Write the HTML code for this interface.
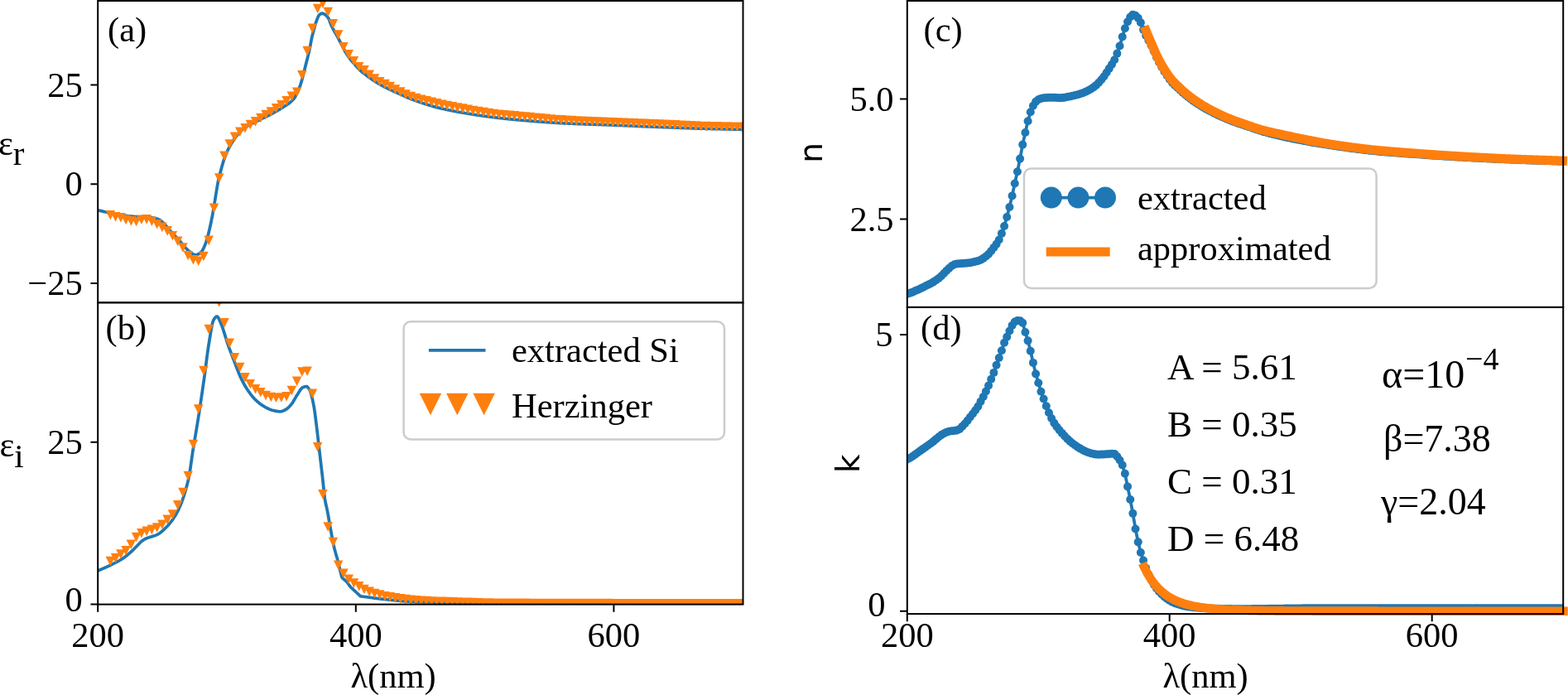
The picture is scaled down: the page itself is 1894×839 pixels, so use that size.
<!DOCTYPE html>
<html><head><meta charset="utf-8"><title>Si optical constants</title>
<style>html,body{margin:0;padding:0;background:#fff;overflow:hidden} svg{display:block}</style>
</head><body>
<svg width="1894" height="839" viewBox="0 0 1894 839">
<rect x="0" y="0" width="1894" height="839" fill="#ffffff"/>
<defs>
<clipPath id="clipa"><rect x="118.2" y="1.0" width="779.3" height="364.3"/></clipPath>
<clipPath id="clipb"><rect x="118.2" y="365.3" width="779.3" height="364.3"/></clipPath>
<clipPath id="clipc"><rect x="1095.8" y="1.0" width="792.4000000000001" height="369.9"/></clipPath>
<clipPath id="clipd"><rect x="1095.8" y="370.9" width="792.4000000000001" height="370.20000000000005"/></clipPath>
</defs>
<g clip-path="url(#clipa)"><polyline points="118.20,253.75 119.18,253.99 120.15,254.22 121.13,254.45 122.10,254.68 123.08,254.90 124.05,255.13 125.03,255.35 126.00,255.56 126.98,255.77 127.95,255.98 128.93,256.19 129.90,256.39 130.88,256.58 131.85,256.78 132.83,256.97 133.81,257.16 134.78,257.34 135.76,257.53 136.73,257.71 137.71,257.89 138.68,258.06 139.66,258.24 140.63,258.41 141.61,258.59 142.58,258.77 143.56,258.96 144.53,259.14 145.51,259.32 146.48,259.50 147.46,259.68 148.44,259.85 149.41,260.01 150.39,260.17 151.36,260.32 152.34,260.47 153.31,260.60 154.29,260.72 155.26,260.83 156.24,260.93 157.21,261.03 158.19,261.12 159.16,261.22 160.14,261.30 161.12,261.39 162.09,261.47 163.07,261.55 164.04,261.62 165.02,261.69 165.99,261.76 166.97,261.82 167.94,261.88 168.92,261.94 169.89,261.99 170.87,262.04 171.84,262.09 172.82,262.12 173.79,262.15 174.77,262.18 175.75,262.21 176.72,262.24 177.70,262.28 178.67,262.32 179.65,262.36 180.62,262.41 181.60,262.47 182.57,262.55 183.55,262.66 184.52,262.81 185.50,262.99 186.47,263.21 187.45,263.46 188.42,263.74 189.40,264.05 190.38,264.38 191.35,264.75 192.33,265.14 193.30,265.70 194.28,266.42 195.25,267.26 196.23,268.19 197.20,269.18 198.18,270.18 199.15,271.15 200.13,272.17 201.10,273.27 202.08,274.41 203.05,275.58 204.03,276.74 205.01,277.87 205.98,278.95 206.96,280.03 207.93,281.09 208.91,282.14 209.88,283.19 210.86,284.24 211.83,285.28 212.81,286.32 213.78,287.36 214.76,288.40 215.73,289.45 216.71,290.50 217.69,291.58 218.66,292.70 219.64,293.85 220.61,295.01 221.59,296.17 222.56,297.32 223.54,298.45 224.51,299.53 225.49,300.55 226.46,301.51 227.44,302.38 228.41,303.17 229.39,303.95 230.36,304.76 231.34,305.55 232.32,306.27 233.29,306.90 234.27,307.39 235.24,307.71 236.22,307.80 237.19,307.69 238.17,307.43 239.14,307.03 240.12,306.53 241.09,305.94 242.07,305.29 243.04,304.43 244.02,303.13 244.99,301.45 245.97,299.47 246.95,297.27 247.92,294.93 248.90,292.41 249.87,289.34 250.85,285.82 251.82,281.96 252.80,277.92 253.77,273.76 254.75,269.25 255.72,264.42 256.70,259.31 257.67,253.96 258.65,248.10 259.62,241.97 260.60,235.99 261.58,229.95 262.55,224.06 263.53,218.87 264.50,214.53 265.48,210.65 266.45,206.98 267.43,203.33 268.40,199.77 269.38,196.40 270.35,193.32 271.33,190.55 272.30,187.96 273.28,185.53 274.26,183.27 275.23,181.16 276.21,179.19 277.18,177.33 278.16,175.55 279.13,173.86 280.11,172.25 281.08,170.71 282.06,169.24 283.03,167.82 284.01,166.43 284.98,165.08 285.96,163.77 286.93,162.51 287.91,161.31 288.89,160.18 289.86,159.13 290.84,158.16 291.81,157.27 292.79,156.43 293.76,155.63 294.74,154.88 295.71,154.17 296.69,153.49 297.66,152.84 298.64,152.22 299.61,151.63 300.59,151.07 301.56,150.54 302.54,150.03 303.52,149.54 304.49,149.06 305.47,148.60 306.44,148.13 307.42,147.67 308.39,147.20 309.37,146.72 310.34,146.23 311.32,145.74 312.29,145.26 313.27,144.78 314.24,144.31 315.22,143.84 316.19,143.37 317.17,142.90 318.15,142.42 319.12,141.95 320.10,141.48 321.07,141.00 322.05,140.52 323.02,140.04 324.00,139.55 324.97,139.05 325.95,138.55 326.92,138.05 327.90,137.53 328.87,137.01 329.85,136.48 330.83,135.95 331.80,135.42 332.78,134.88 333.75,134.34 334.73,133.79 335.70,133.23 336.68,132.67 337.65,132.09 338.63,131.51 339.60,130.91 340.58,130.29 341.55,129.66 342.53,129.02 343.50,128.36 344.48,127.72 345.46,127.08 346.43,126.44 347.41,125.79 348.38,125.11 349.36,124.40 350.33,123.65 351.31,122.84 352.28,121.96 353.26,121.01 354.23,119.97 355.21,118.82 356.18,117.44 357.16,115.80 358.13,113.94 359.11,111.88 360.09,109.66 361.06,107.29 362.04,104.81 363.01,102.03 363.99,98.86 364.96,95.38 365.94,91.67 366.91,87.82 367.89,83.90 368.86,80.02 369.84,76.22 370.81,72.42 371.79,68.55 372.76,64.53 373.74,60.28 374.72,55.72 375.69,50.28 376.67,45.32 377.64,41.46 378.62,37.84 379.59,34.03 380.57,30.44 381.54,27.33 382.52,24.56 383.49,22.13 384.47,19.82 385.44,18.16 386.42,17.33 387.39,16.69 388.37,16.25 389.35,16.10 390.32,16.33 391.30,16.81 392.27,17.35 393.25,18.00 394.22,18.83 395.20,19.87 396.17,21.20 397.15,22.81 398.12,25.05 399.10,27.84 400.07,30.37 401.05,32.45 402.03,34.37 403.00,36.20 403.98,37.98 404.95,39.66 405.93,41.29 406.90,42.96 407.88,44.77 408.85,46.67 409.83,48.61 410.80,50.51 411.78,52.31 412.75,54.09 413.73,55.89 414.70,57.83 415.68,59.96 416.66,61.86 417.63,63.50 418.61,65.02 419.58,66.47 420.56,67.88 421.53,69.28 422.51,70.64 423.48,71.95 424.46,73.20 425.43,74.37 426.41,75.47 427.38,76.53 428.36,77.60 429.33,78.70 430.31,79.84 431.29,80.99 432.26,82.10 433.24,83.14 434.21,84.11 435.19,85.03 436.16,85.91 437.14,86.75 438.11,87.54 439.09,88.28 440.06,89.00 441.04,89.73 442.01,90.47 442.99,91.22 443.96,91.98 444.94,92.72 445.92,93.45 446.89,94.15 447.87,94.84 448.84,95.51 449.82,96.18 450.79,96.83 451.77,97.47 452.74,98.10 453.72,98.72 454.69,99.34 455.67,99.95 456.64,100.55 457.62,101.15 458.60,101.74 459.57,102.31 460.55,102.87 461.52,103.42 462.50,103.95 463.47,104.47 464.45,104.97 465.42,105.46 466.40,105.94 467.37,106.42 468.35,106.88 469.32,107.34 470.30,107.80 471.27,108.26 472.25,108.72 473.23,109.17 474.20,109.62 475.18,110.06 476.15,110.51 477.13,110.94 478.10,111.38 479.08,111.82 480.05,112.25 481.03,112.69 482.00,113.13 482.98,113.57 483.95,114.00 484.93,114.44 485.90,114.88 486.88,115.31 487.86,115.75 488.83,116.18 489.81,116.62 490.78,117.06 491.76,117.50 492.73,117.94 493.71,118.36 494.68,118.75 495.66,119.13 496.63,119.50 497.61,119.87 498.58,120.24 499.56,120.61 500.53,120.97 501.51,121.33 502.49,121.68 503.46,122.04 504.44,122.39 505.41,122.73 506.39,123.08 507.36,123.42 508.34,123.75 509.31,124.08 510.29,124.41 511.26,124.74 512.24,125.06 513.21,125.38 514.19,125.69 515.17,126.00 516.14,126.31 517.12,126.61 518.09,126.91 519.07,127.20 520.04,127.49 521.02,127.77 521.99,128.05 522.97,128.33 523.94,128.60 524.92,128.86 525.89,129.13 526.87,129.38 527.84,129.63 528.82,129.88 529.80,130.12 530.77,130.36 531.75,130.60 532.72,130.83 533.70,131.05 534.67,131.28 535.65,131.50 536.62,131.72 537.60,131.94 538.57,132.15 539.55,132.36 540.52,132.56 541.50,132.77 542.47,132.97 543.45,133.17 544.43,133.37 545.40,133.56 546.38,133.75 547.35,133.94 548.33,134.13 549.30,134.32 550.28,134.50 551.25,134.68 552.23,134.86 553.20,135.04 554.18,135.22 555.15,135.39 556.13,135.57 557.10,135.74 558.08,135.91 559.06,136.08 560.03,136.25 561.01,136.41 561.98,136.58 562.96,136.74 563.93,136.91 564.91,137.07 565.88,137.23 566.86,137.39 567.83,137.55 568.81,137.71 569.78,137.86 570.76,138.02 571.74,138.17 572.71,138.32 573.69,138.48 574.66,138.63 575.64,138.78 576.61,138.92 577.59,139.07 578.56,139.22 579.54,139.36 580.51,139.50 581.49,139.64 582.46,139.78 583.44,139.92 584.41,140.06 585.39,140.20 586.37,140.33 587.34,140.46 588.32,140.60 589.29,140.73 590.27,140.86 591.24,140.99 592.22,141.11 593.19,141.24 594.17,141.36 595.14,141.48 596.12,141.60 597.09,141.72 598.07,141.84 599.04,141.96 600.02,142.07 601.00,142.19 601.97,142.30 602.95,142.41 603.92,142.52 604.90,142.63 605.87,142.74 606.85,142.85 607.82,142.96 608.80,143.06 609.77,143.17 610.75,143.27 611.72,143.38 612.70,143.48 613.67,143.58 614.65,143.68 615.63,143.78 616.60,143.88 617.58,143.98 618.55,144.07 619.53,144.17 620.50,144.27 621.48,144.36 622.45,144.45 623.43,144.54 624.40,144.64 625.38,144.73 626.35,144.81 627.33,144.90 628.31,144.99 629.28,145.08 630.26,145.16 631.23,145.25 632.21,145.33 633.18,145.41 634.16,145.50 635.13,145.58 636.11,145.66 637.08,145.74 638.06,145.82 639.03,145.90 640.01,145.98 640.98,146.06 641.96,146.14 642.94,146.22 643.91,146.30 644.89,146.38 645.86,146.45 646.84,146.53 647.81,146.61 648.79,146.68 649.76,146.76 650.74,146.83 651.71,146.91 652.69,146.98 653.66,147.05 654.64,147.13 655.61,147.20 656.59,147.27 657.57,147.34 658.54,147.41 659.52,147.48 660.49,147.55 661.47,147.62 662.44,147.68 663.42,147.75 664.39,147.81 665.37,147.88 666.34,147.94 667.32,148.00 668.29,148.07 669.27,148.13 670.24,148.19 671.22,148.24 672.20,148.30 673.17,148.36 674.15,148.41 675.12,148.47 676.10,148.52 677.07,148.57 678.05,148.63 679.02,148.68 680.00,148.72 680.97,148.77 681.95,148.82 682.92,148.87 683.90,148.91 684.87,148.96 685.85,149.00 686.83,149.05 687.80,149.09 688.78,149.13 689.75,149.17 690.73,149.21 691.70,149.25 692.68,149.29 693.65,149.33 694.63,149.37 695.60,149.41 696.58,149.45 697.55,149.49 698.53,149.52 699.51,149.56 700.48,149.60 701.46,149.63 702.43,149.67 703.41,149.71 704.38,149.74 705.36,149.77 706.33,149.81 707.31,149.84 708.28,149.88 709.26,149.91 710.23,149.95 711.21,149.98 712.18,150.01 713.16,150.05 714.14,150.08 715.11,150.11 716.09,150.14 717.06,150.18 718.04,150.21 719.01,150.24 719.99,150.28 720.96,150.31 721.94,150.34 722.91,150.38 723.89,150.41 724.86,150.44 725.84,150.48 726.81,150.51 727.79,150.55 728.77,150.58 729.74,150.62 730.72,150.65 731.69,150.69 732.67,150.72 733.64,150.76 734.62,150.79 735.59,150.83 736.57,150.87 737.54,150.90 738.52,150.94 739.49,150.98 740.47,151.02 741.44,151.06 742.42,151.10 743.40,151.14 744.37,151.18 745.35,151.22 746.32,151.26 747.30,151.30 748.27,151.34 749.25,151.38 750.22,151.42 751.20,151.46 752.17,151.50 753.15,151.54 754.12,151.58 755.10,151.63 756.08,151.67 757.05,151.71 758.03,151.75 759.00,151.79 759.98,151.84 760.95,151.88 761.93,151.92 762.90,151.96 763.88,152.00 764.85,152.05 765.83,152.09 766.80,152.13 767.78,152.17 768.75,152.22 769.73,152.26 770.71,152.30 771.68,152.34 772.66,152.39 773.63,152.43 774.61,152.47 775.58,152.51 776.56,152.55 777.53,152.59 778.51,152.64 779.48,152.68 780.46,152.72 781.43,152.76 782.41,152.80 783.38,152.84 784.36,152.88 785.34,152.92 786.31,152.96 787.29,153.00 788.26,153.04 789.24,153.08 790.21,153.12 791.19,153.16 792.16,153.20 793.14,153.24 794.11,153.28 795.09,153.31 796.06,153.35 797.04,153.39 798.01,153.43 798.99,153.46 799.97,153.50 800.94,153.53 801.92,153.57 802.89,153.61 803.87,153.64 804.84,153.68 805.82,153.72 806.79,153.75 807.77,153.79 808.74,153.82 809.72,153.86 810.69,153.90 811.67,153.93 812.65,153.97 813.62,154.00 814.60,154.04 815.57,154.07 816.55,154.11 817.52,154.15 818.50,154.18 819.47,154.22 820.45,154.25 821.42,154.29 822.40,154.32 823.37,154.36 824.35,154.39 825.32,154.42 826.30,154.46 827.28,154.49 828.25,154.53 829.23,154.56 830.20,154.59 831.18,154.63 832.15,154.66 833.13,154.69 834.10,154.73 835.08,154.76 836.05,154.79 837.03,154.82 838.00,154.86 838.98,154.89 839.95,154.92 840.93,154.95 841.91,154.98 842.88,155.01 843.86,155.04 844.83,155.07 845.81,155.10 846.78,155.13 847.76,155.16 848.73,155.19 849.71,155.22 850.68,155.25 851.66,155.27 852.63,155.30 853.61,155.33 854.58,155.36 855.56,155.38 856.54,155.41 857.51,155.44 858.49,155.46 859.46,155.49 860.44,155.51 861.41,155.54 862.39,155.56 863.36,155.58 864.34,155.61 865.31,155.63 866.29,155.66 867.26,155.68 868.24,155.70 869.22,155.72 870.19,155.75 871.17,155.77 872.14,155.79 873.12,155.81 874.09,155.84 875.07,155.86 876.04,155.88 877.02,155.90 877.99,155.92 878.97,155.94 879.94,155.96 880.92,155.98 881.89,156.00 882.87,156.02 883.85,156.04 884.82,156.06 885.80,156.08 886.77,156.10 887.75,156.12 888.72,156.14 889.70,156.16 890.67,156.17 891.65,156.19 892.62,156.21 893.60,156.23 894.57,156.24 895.55,156.26 896.52,156.28 897.50,156.29" fill="none" stroke="#1f77b4" stroke-width="3.75" stroke-linejoin="round" stroke-linecap="square"/>
<path d="M129.57,255.25L137.07,255.25L133.32,262.75ZM135.83,257.35L143.33,257.35L139.58,264.85ZM142.09,258.25L149.59,258.25L145.84,265.75ZM148.34,260.85L155.84,260.85L152.09,268.35ZM154.60,262.35L162.10,262.35L158.35,269.85ZM160.86,262.95L168.36,262.95L164.61,270.45ZM167.12,260.65L174.62,260.65L170.87,268.15ZM173.38,260.35L180.88,260.35L177.13,267.85ZM179.63,262.65L187.13,262.65L183.38,270.15ZM185.89,266.25L193.39,266.25L189.64,273.75ZM192.15,269.85L199.65,269.85L195.90,277.35ZM198.41,274.35L205.91,274.35L202.16,281.85ZM204.67,280.25L212.17,280.25L208.42,287.75ZM210.92,286.85L218.42,286.85L214.67,294.35ZM217.18,294.45L224.68,294.45L220.93,301.95ZM223.44,303.95L230.94,303.95L227.19,311.45ZM229.70,309.15L237.20,309.15L233.45,316.65ZM235.96,310.65L243.46,310.65L239.71,318.15ZM242.21,304.95L249.71,304.95L245.96,312.45ZM248.47,285.85L255.97,285.85L252.22,293.35ZM254.73,246.75L262.23,246.75L258.48,254.25ZM260.99,210.55L268.49,210.55L264.74,218.05ZM267.25,183.85L274.75,183.85L271.00,191.35ZM273.50,169.55L281.00,169.55L277.25,177.05ZM279.76,160.85L287.26,160.85L283.51,168.35ZM286.02,154.75L293.52,154.75L289.77,162.25ZM292.28,150.25L299.78,150.25L296.03,157.75ZM298.54,145.95L306.04,145.95L302.29,153.45ZM304.79,142.35L312.29,142.35L308.54,149.85ZM311.05,138.05L318.55,138.05L314.80,145.55ZM317.31,134.05L324.81,134.05L321.06,141.55ZM323.57,130.45L331.07,130.45L327.32,137.95ZM329.83,126.15L337.33,126.15L333.58,133.65ZM336.08,122.15L343.58,122.15L339.83,129.65ZM342.34,117.35L349.84,117.35L346.09,124.85ZM348.60,111.85L356.10,111.85L352.35,119.35ZM354.86,106.65L362.36,106.65L358.61,114.15ZM361.12,86.35L368.62,86.35L364.87,93.85ZM367.37,57.05L374.87,57.05L371.12,64.55ZM373.63,29.85L381.13,29.85L377.38,37.35ZM379.89,6.05L387.39,6.05L383.64,13.55ZM386.15,-0.25L393.65,-0.25L389.90,7.25ZM392.41,10.05L399.91,10.05L396.16,17.55ZM398.66,24.35L406.16,24.35L402.41,31.85ZM404.92,37.45L412.42,37.45L408.67,44.95ZM411.18,52.25L418.68,52.25L414.93,59.75ZM417.44,61.35L424.94,61.35L421.19,68.85ZM423.70,69.15L431.20,69.15L427.45,76.65ZM429.95,76.15L437.45,76.15L433.70,83.65ZM436.21,80.35L443.71,80.35L439.96,87.85ZM442.47,85.65L449.97,85.65L446.22,93.15ZM448.73,90.45L456.23,90.45L452.48,97.95ZM454.99,94.25L462.49,94.25L458.74,101.75ZM461.24,97.05L468.74,97.05L464.99,104.55ZM467.50,100.11L475.00,100.11L471.25,107.61ZM473.76,103.38L481.26,103.38L477.51,110.88ZM480.02,106.62L487.52,106.62L483.77,114.12ZM486.28,109.59L493.78,109.59L490.03,117.09ZM492.53,112.05L500.03,112.05L496.28,119.55ZM498.79,114.03L506.29,114.03L502.54,121.53ZM505.05,115.78L512.55,115.78L508.80,123.28ZM511.31,117.36L518.81,117.36L515.06,124.86ZM517.57,118.82L525.07,118.82L521.32,126.32ZM523.82,120.25L531.32,120.25L527.57,127.75ZM530.08,121.64L537.58,121.64L533.83,129.14ZM536.34,122.96L543.84,122.96L540.09,130.46ZM542.60,124.22L550.10,124.22L546.35,131.72ZM548.86,125.43L556.36,125.43L552.61,132.93ZM555.11,126.61L562.61,126.61L558.86,134.11ZM561.37,127.75L568.87,127.75L565.12,135.25ZM567.63,128.89L575.13,128.89L571.38,136.39ZM573.89,130.03L581.39,130.03L577.64,137.53ZM580.15,131.12L587.65,131.12L583.90,138.62ZM586.40,132.11L593.90,132.11L590.15,139.61ZM592.66,132.95L600.16,132.95L596.41,140.45ZM598.92,133.65L606.42,133.65L602.67,141.15ZM605.18,134.27L612.68,134.27L608.93,141.77ZM611.44,134.84L618.94,134.84L615.19,142.34ZM617.69,135.37L625.19,135.37L621.44,142.87ZM623.95,135.90L631.45,135.90L627.70,143.40ZM630.21,136.45L637.71,136.45L633.96,143.95ZM636.47,137.04L643.97,137.04L640.22,144.54ZM642.73,137.65L650.23,137.65L646.48,145.15ZM648.98,138.26L656.48,138.26L652.73,145.76ZM655.24,138.85L662.74,138.85L658.99,146.35ZM661.50,139.41L669.00,139.41L665.25,146.91ZM667.76,139.92L675.26,139.92L671.51,147.42ZM674.02,140.35L681.52,140.35L677.77,147.85ZM680.27,140.72L687.77,140.72L684.02,148.22ZM686.53,141.06L694.03,141.06L690.28,148.56ZM692.79,141.38L700.29,141.38L696.54,148.88ZM699.05,141.67L706.55,141.67L702.80,149.17ZM705.31,141.95L712.81,141.95L709.06,149.45ZM711.56,142.22L719.06,142.22L715.31,149.72ZM717.82,142.47L725.32,142.47L721.57,149.97ZM724.08,142.73L731.58,142.73L727.83,150.23ZM730.34,142.99L737.84,142.99L734.09,150.49ZM736.60,143.25L744.10,143.25L740.35,150.75ZM742.85,143.51L750.35,143.51L746.60,151.01ZM749.11,143.77L756.61,143.77L752.86,151.27ZM755.37,144.02L762.87,144.02L759.12,151.52ZM761.63,144.26L769.13,144.26L765.38,151.76ZM767.89,144.51L775.39,144.51L771.64,152.01ZM774.14,144.75L781.64,144.75L777.89,152.25ZM780.40,144.99L787.90,144.99L784.15,152.49ZM786.66,145.24L794.16,145.24L790.41,152.74ZM792.92,145.49L800.42,145.49L796.67,152.99ZM799.18,145.75L806.68,145.75L802.93,153.25ZM805.43,146.03L812.93,146.03L809.18,153.53ZM811.69,146.34L819.19,146.34L815.44,153.84ZM817.95,146.67L825.45,146.67L821.70,154.17ZM824.21,147.00L831.71,147.00L827.96,154.50ZM830.47,147.31L837.97,147.31L834.22,154.81ZM836.72,147.61L844.22,147.61L840.47,155.11ZM842.98,147.88L850.48,147.88L846.73,155.38ZM849.24,148.09L856.74,148.09L852.99,155.59ZM855.50,148.25L863.00,148.25L859.25,155.75ZM861.76,148.37L869.26,148.37L865.51,155.87ZM868.01,148.49L875.51,148.49L871.76,155.99ZM874.27,148.59L881.77,148.59L878.02,156.09ZM880.53,148.67L888.03,148.67L884.28,156.17ZM886.79,148.73L894.29,148.73L890.54,156.23ZM893.05,148.75L900.55,148.75L896.80,156.25Z" fill="#ff7f0e" stroke="#ff7f0e" stroke-width="2.5" stroke-linejoin="miter" stroke-miterlimit="10"/>
</g>
<g clip-path="url(#clipb)"><polyline points="118.20,688.92 119.18,688.54 120.15,688.15 121.13,687.76 122.10,687.36 123.08,686.95 124.05,686.54 125.03,686.12 126.00,685.69 126.98,685.25 127.95,684.82 128.93,684.37 129.90,683.92 130.88,683.46 131.85,683.00 132.83,682.53 133.81,682.06 134.78,681.59 135.76,681.12 136.73,680.64 137.71,680.15 138.68,679.66 139.66,679.16 140.63,678.65 141.61,678.14 142.58,677.60 143.56,677.06 144.53,676.50 145.51,675.92 146.48,675.33 147.46,674.71 148.44,674.08 149.41,673.41 150.39,672.72 151.36,671.99 152.34,671.24 153.31,670.46 154.29,669.66 155.26,668.84 156.24,668.00 157.21,667.14 158.19,666.27 159.16,665.40 160.14,664.50 161.12,663.55 162.09,662.56 163.07,661.55 164.04,660.53 165.02,659.51 165.99,658.51 166.97,657.49 167.94,656.45 168.92,655.42 169.89,654.46 170.87,653.60 171.84,652.86 172.82,652.16 173.79,651.52 174.77,650.93 175.75,650.42 176.72,649.98 177.70,649.60 178.67,649.26 179.65,648.93 180.62,648.59 181.60,648.26 182.57,647.94 183.55,647.65 184.52,647.35 185.50,647.05 186.47,646.74 187.45,646.40 188.42,646.03 189.40,645.62 190.38,645.16 191.35,644.63 192.33,644.01 193.30,643.33 194.28,642.58 195.25,641.78 196.23,640.93 197.20,640.04 198.18,639.12 199.15,638.16 200.13,637.19 201.10,636.20 202.08,635.20 203.05,634.15 204.03,633.05 205.01,631.90 205.98,630.69 206.96,629.42 207.93,628.10 208.91,626.72 209.88,625.28 210.86,623.78 211.83,622.21 212.81,620.52 213.78,618.73 214.76,616.84 215.73,614.83 216.71,612.73 217.69,610.51 218.66,608.20 219.64,605.72 220.61,603.05 221.59,600.18 222.56,597.14 223.54,593.94 224.51,590.61 225.49,587.13 226.46,583.40 227.44,579.28 228.41,574.61 229.39,568.92 230.36,562.39 231.34,555.47 232.32,548.60 233.29,542.20 234.27,536.19 235.24,530.34 236.22,524.58 237.19,518.82 238.17,512.98 239.14,506.99 240.12,500.78 241.09,494.43 242.07,487.96 243.04,481.38 244.02,474.73 244.99,467.99 245.97,461.21 246.95,454.24 247.92,446.88 248.90,439.34 249.87,431.85 250.85,424.62 251.82,417.87 252.80,411.83 253.77,405.92 254.75,400.00 255.72,394.53 256.70,390.00 257.67,386.86 258.65,385.14 259.62,383.72 260.60,382.65 261.58,382.06 262.55,382.18 263.53,383.25 264.50,385.04 265.48,387.27 266.45,389.65 267.43,391.92 268.40,394.38 269.38,397.17 270.35,400.20 271.33,403.36 272.30,406.58 273.28,409.76 274.26,412.81 275.23,415.65 276.21,418.37 277.18,421.03 278.16,423.64 279.13,426.22 280.11,428.77 281.08,431.30 282.06,433.83 283.03,436.34 284.01,438.90 284.98,441.48 285.96,444.06 286.93,446.61 287.91,449.09 288.89,451.49 289.86,453.76 290.84,455.89 291.81,457.91 292.79,459.87 293.76,461.75 294.74,463.57 295.71,465.31 296.69,466.98 297.66,468.56 298.64,470.06 299.61,471.50 300.59,472.90 301.56,474.26 302.54,475.58 303.52,476.85 304.49,478.08 305.47,479.25 306.44,480.37 307.42,481.42 308.39,482.42 309.37,483.35 310.34,484.24 311.32,485.10 312.29,485.93 313.27,486.72 314.24,487.48 315.22,488.20 316.19,488.89 317.17,489.54 318.15,490.16 319.12,490.73 320.10,491.27 321.07,491.80 322.05,492.32 323.02,492.82 324.00,493.30 324.97,493.75 325.95,494.17 326.92,494.56 327.90,494.91 328.87,495.21 329.85,495.47 330.83,495.69 331.80,495.90 332.78,496.11 333.75,496.30 334.73,496.47 335.70,496.62 336.68,496.72 337.65,496.78 338.63,496.80 339.60,496.69 340.58,496.46 341.55,496.12 342.53,495.71 343.50,495.25 344.48,494.76 345.46,494.25 346.43,493.62 347.41,492.84 348.38,491.96 349.36,490.98 350.33,489.92 351.31,488.81 352.28,487.65 353.26,486.29 354.23,484.73 355.21,483.04 356.18,481.31 357.16,479.61 358.13,478.01 359.11,476.53 360.09,474.98 361.06,473.38 362.04,471.83 363.01,470.39 363.99,469.16 364.96,468.22 365.94,467.64 366.91,467.23 367.89,466.88 368.86,466.63 369.84,466.51 370.81,466.70 371.79,467.55 372.76,468.87 373.74,470.49 374.72,472.37 375.69,475.15 376.67,478.78 377.64,483.05 378.62,487.77 379.59,493.19 380.57,500.06 381.54,507.78 382.52,515.64 383.49,523.69 384.47,532.17 385.44,540.78 386.42,549.25 387.39,557.58 388.37,565.92 389.35,574.38 390.32,583.38 391.30,593.11 392.27,601.48 393.25,607.04 394.22,611.28 395.20,615.59 396.17,620.75 397.15,626.30 398.12,631.97 399.10,637.50 400.07,642.85 401.05,648.23 402.03,653.41 403.00,658.16 403.98,662.30 404.95,665.98 405.93,669.41 406.90,672.80 407.88,676.35 408.85,680.29 409.83,684.29 410.80,688.29 411.78,692.29 412.75,696.29 413.73,697.93 414.70,698.76 415.68,699.60 416.66,700.43 417.63,701.27 418.61,702.11 419.58,703.43 420.56,704.75 421.53,706.07 422.51,707.39 423.48,708.68 424.46,709.58 425.43,710.48 426.41,711.38 427.38,712.29 428.36,713.19 429.33,714.09 430.31,715.00 431.29,715.90 432.26,716.80 433.24,717.70 434.21,718.61 435.19,719.51 436.16,719.89 437.14,720.01 438.11,720.14 439.09,720.26 440.06,720.39 441.04,720.51 442.01,720.64 442.99,720.76 443.96,720.89 444.94,721.01 445.92,721.14 446.89,721.26 447.87,721.39 448.84,721.51 449.82,721.64 450.79,721.77 451.77,721.89 452.74,722.02 453.72,722.14 454.69,722.27 455.67,722.39 456.64,722.52 457.62,722.64 458.60,722.77 459.57,722.89 460.55,723.02 461.52,723.12 462.50,723.22 463.47,723.32 464.45,723.42 465.42,723.52 466.40,723.62 467.37,723.72 468.35,723.82 469.32,723.92 470.30,724.02 471.27,724.12 472.25,724.22 473.23,724.32 474.20,724.43 475.18,724.53 476.15,724.63 477.13,724.73 478.10,724.83 479.08,724.93 480.05,725.03 481.03,725.13 482.00,725.23 482.98,725.33 483.95,725.43 484.93,725.52 485.90,725.59 486.88,725.65 487.86,725.71 488.83,725.78 489.81,725.84 490.78,725.90 491.76,725.96 492.73,726.02 493.71,726.07 494.68,726.13 495.66,726.18 496.63,726.23 497.61,726.28 498.58,726.33 499.56,726.38 500.53,726.42 501.51,726.46 502.49,726.50 503.46,726.54 504.44,726.58 505.41,726.61 506.39,726.64 507.36,726.67 508.34,726.69 509.31,726.71 510.29,726.74 511.26,726.76 512.24,726.78 513.21,726.80 514.19,726.82 515.17,726.84 516.14,726.86 517.12,726.88 518.09,726.90 519.07,726.92 520.04,726.94 521.02,726.95 521.99,726.97 522.97,726.99 523.94,727.01 524.92,727.02 525.89,727.04 526.87,727.05 527.84,727.07 528.82,727.08 529.80,727.10 530.77,727.11 531.75,727.13 532.72,727.14 533.70,727.15 534.67,727.17 535.65,727.18 536.62,727.19 537.60,727.21 538.57,727.22 539.55,727.23 540.52,727.24 541.50,727.25 542.47,727.26 543.45,727.27 544.43,727.28 545.40,727.29 546.38,727.30 547.35,727.31 548.33,727.32 549.30,727.33 550.28,727.33 551.25,727.34 552.23,727.35 553.20,727.36 554.18,727.36 555.15,727.37 556.13,727.38 557.10,727.38 558.08,727.39 559.06,727.39 560.03,727.40 561.01,727.41 561.98,727.41 562.96,727.42 563.93,727.42 564.91,727.43 565.88,727.43 566.86,727.44 567.83,727.44 568.81,727.45 569.78,727.45 570.76,727.45 571.74,727.46 572.71,727.46 573.69,727.47 574.66,727.47 575.64,727.48 576.61,727.48 577.59,727.49 578.56,727.49 579.54,727.50 580.51,727.50 581.49,727.51 582.46,727.51 583.44,727.52 584.41,727.52 585.39,727.52 586.37,727.53 587.34,727.53 588.32,727.54 589.29,727.54 590.27,727.55 591.24,727.55 592.22,727.55 593.19,727.56 594.17,727.56 595.14,727.57 596.12,727.57 597.09,727.57 598.07,727.58 599.04,727.58 600.02,727.59 601.00,727.59 601.97,727.59 602.95,727.60 603.92,727.60 604.90,727.61 605.87,727.61 606.85,727.61 607.82,727.62 608.80,727.62 609.77,727.62 610.75,727.63 611.72,727.63 612.70,727.64 613.67,727.64 614.65,727.64 615.63,727.65 616.60,727.65 617.58,727.65 618.55,727.66 619.53,727.66 620.50,727.66 621.48,727.67 622.45,727.67 623.43,727.67 624.40,727.67 625.38,727.68 626.35,727.68 627.33,727.68 628.31,727.69 629.28,727.69 630.26,727.69 631.23,727.70 632.21,727.70 633.18,727.70 634.16,727.70 635.13,727.71 636.11,727.71 637.08,727.71 638.06,727.71 639.03,727.72 640.01,727.72 640.98,727.72 641.96,727.72 642.94,727.73 643.91,727.73 644.89,727.73 645.86,727.73 646.84,727.74 647.81,727.74 648.79,727.74 649.76,727.74 650.74,727.75 651.71,727.75 652.69,727.75 653.66,727.75 654.64,727.75 655.61,727.76 656.59,727.76 657.57,727.76 658.54,727.76 659.52,727.76 660.49,727.76 661.47,727.77 662.44,727.77 663.42,727.77 664.39,727.77 665.37,727.77 666.34,727.77 667.32,727.78 668.29,727.78 669.27,727.78 670.24,727.78 671.22,727.78 672.20,727.78 673.17,727.78 674.15,727.78 675.12,727.79 676.10,727.79 677.07,727.79 678.05,727.79 679.02,727.79 680.00,727.79 680.97,727.79 681.95,727.79 682.92,727.79 683.90,727.79 684.87,727.79 685.85,727.80 686.83,727.80 687.80,727.80 688.78,727.80 689.75,727.80 690.73,727.80 691.70,727.80 692.68,727.80 693.65,727.80 694.63,727.80 695.60,727.80 696.58,727.80 697.55,727.80 698.53,727.80 699.51,727.80 700.48,727.80 701.46,727.80 702.43,727.80 703.41,727.80 704.38,727.80 705.36,727.80 706.33,727.80 707.31,727.80 708.28,727.80 709.26,727.80 710.23,727.80 711.21,727.80 712.18,727.80 713.16,727.80 714.14,727.80 715.11,727.80 716.09,727.80 717.06,727.80 718.04,727.80 719.01,727.80 719.99,727.80 720.96,727.80 721.94,727.80 722.91,727.80 723.89,727.80 724.86,727.80 725.84,727.80 726.81,727.80 727.79,727.80 728.77,727.80 729.74,727.80 730.72,727.80 731.69,727.80 732.67,727.80 733.64,727.80 734.62,727.80 735.59,727.80 736.57,727.80 737.54,727.80 738.52,727.80 739.49,727.80 740.47,727.80 741.44,727.80 742.42,727.80 743.40,727.80 744.37,727.80 745.35,727.80 746.32,727.80 747.30,727.80 748.27,727.80 749.25,727.80 750.22,727.80 751.20,727.80 752.17,727.80 753.15,727.80 754.12,727.80 755.10,727.80 756.08,727.80 757.05,727.80 758.03,727.80 759.00,727.80 759.98,727.80 760.95,727.80 761.93,727.80 762.90,727.80 763.88,727.80 764.85,727.80 765.83,727.80 766.80,727.80 767.78,727.80 768.75,727.80 769.73,727.80 770.71,727.80 771.68,727.80 772.66,727.80 773.63,727.80 774.61,727.80 775.58,727.80 776.56,727.80 777.53,727.80 778.51,727.80 779.48,727.80 780.46,727.80 781.43,727.80 782.41,727.80 783.38,727.80 784.36,727.80 785.34,727.80 786.31,727.80 787.29,727.80 788.26,727.80 789.24,727.80 790.21,727.80 791.19,727.80 792.16,727.80 793.14,727.80 794.11,727.80 795.09,727.80 796.06,727.80 797.04,727.80 798.01,727.80 798.99,727.80 799.97,727.80 800.94,727.80 801.92,727.80 802.89,727.80 803.87,727.80 804.84,727.80 805.82,727.80 806.79,727.80 807.77,727.80 808.74,727.80 809.72,727.80 810.69,727.80 811.67,727.80 812.65,727.80 813.62,727.80 814.60,727.80 815.57,727.80 816.55,727.80 817.52,727.80 818.50,727.80 819.47,727.80 820.45,727.80 821.42,727.80 822.40,727.80 823.37,727.80 824.35,727.80 825.32,727.80 826.30,727.80 827.28,727.80 828.25,727.80 829.23,727.80 830.20,727.80 831.18,727.80 832.15,727.80 833.13,727.80 834.10,727.80 835.08,727.80 836.05,727.80 837.03,727.80 838.00,727.80 838.98,727.80 839.95,727.80 840.93,727.80 841.91,727.80 842.88,727.80 843.86,727.80 844.83,727.80 845.81,727.80 846.78,727.80 847.76,727.80 848.73,727.80 849.71,727.80 850.68,727.80 851.66,727.80 852.63,727.80 853.61,727.80 854.58,727.80 855.56,727.80 856.54,727.80 857.51,727.80 858.49,727.80 859.46,727.80 860.44,727.80 861.41,727.80 862.39,727.80 863.36,727.80 864.34,727.80 865.31,727.80 866.29,727.80 867.26,727.80 868.24,727.80 869.22,727.80 870.19,727.80 871.17,727.80 872.14,727.80 873.12,727.80 874.09,727.80 875.07,727.80 876.04,727.80 877.02,727.80 877.99,727.80 878.97,727.80 879.94,727.80 880.92,727.80 881.89,727.80 882.87,727.80 883.85,727.80 884.82,727.80 885.80,727.80 886.77,727.80 887.75,727.80 888.72,727.80 889.70,727.80 890.67,727.80 891.65,727.80 892.62,727.80 893.60,727.80 894.57,727.80 895.55,727.80 896.52,727.80 897.50,727.80" fill="none" stroke="#1f77b4" stroke-width="3.75" stroke-linejoin="round" stroke-linecap="square"/>
<path d="M129.57,673.05L137.07,673.05L133.32,680.55ZM135.83,669.25L143.33,669.25L139.58,676.75ZM142.09,664.45L149.59,664.45L145.84,671.95ZM148.34,660.25L155.84,660.25L152.09,667.75ZM154.60,652.65L162.10,652.65L158.35,660.15ZM160.86,644.05L168.36,644.05L164.61,651.55ZM167.12,639.25L174.62,639.25L170.87,646.75ZM173.38,636.85L180.88,636.85L177.13,644.35ZM179.63,634.85L187.13,634.85L183.38,642.35ZM185.89,632.45L193.39,632.45L189.64,639.95ZM192.15,628.65L199.65,628.65L195.90,636.15ZM198.41,622.85L205.91,622.85L202.16,630.35ZM204.67,616.45L212.17,616.45L208.42,623.95ZM210.92,605.35L218.42,605.35L214.67,612.85ZM217.18,590.05L224.68,590.05L220.93,597.55ZM223.44,570.05L230.94,570.05L227.19,577.55ZM229.70,532.05L237.20,532.05L233.45,539.55ZM235.96,489.55L243.46,489.55L239.71,497.05ZM242.21,442.95L249.71,442.95L245.96,450.45ZM248.47,393.05L255.97,393.05L252.22,400.55ZM254.73,341.25L262.23,341.25L258.48,348.75ZM260.99,360.45L268.49,360.45L264.74,367.95ZM267.25,385.25L274.75,385.25L271.00,392.75ZM273.50,409.85L281.00,409.85L277.25,417.35ZM279.76,427.25L287.26,427.25L283.51,434.75ZM286.02,439.05L293.52,439.05L289.77,446.55ZM292.28,451.35L299.78,451.35L296.03,458.85ZM298.54,459.25L306.04,459.25L302.29,466.75ZM304.79,465.25L312.29,465.25L308.54,472.75ZM311.05,469.15L318.55,469.15L314.80,476.65ZM317.31,473.05L324.81,473.05L321.06,480.55ZM323.57,474.95L331.07,474.95L327.32,482.45ZM329.83,475.75L337.33,475.75L333.58,483.25ZM336.08,475.45L343.58,475.45L339.83,482.95ZM342.34,474.25L349.84,474.25L346.09,481.75ZM348.60,467.05L356.10,467.05L352.35,474.55ZM354.86,455.65L362.36,455.65L358.61,463.15ZM361.12,444.45L368.62,444.45L364.87,451.95ZM367.37,443.65L374.87,443.65L371.12,451.15ZM373.63,470.65L381.13,470.65L377.38,478.15ZM379.89,535.15L387.39,535.15L383.64,542.65ZM386.15,592.35L393.65,592.35L389.90,599.85ZM392.41,631.45L399.91,631.45L396.16,638.95ZM398.66,649.95L406.16,649.95L402.41,657.45ZM404.92,677.65L412.42,677.65L408.67,685.15ZM411.18,687.75L418.68,687.75L414.93,695.25ZM417.44,694.65L424.94,694.65L421.19,702.15ZM423.70,699.55L431.20,699.55L427.45,707.05ZM429.95,703.35L437.45,703.35L433.70,710.85ZM436.21,707.05L443.71,707.05L439.96,714.55ZM442.47,709.85L449.97,709.85L446.22,717.35ZM448.73,711.95L456.23,711.95L452.48,719.45ZM454.99,713.55L462.49,713.55L458.74,721.05ZM461.24,715.15L468.74,715.15L464.99,722.65ZM467.50,716.25L475.00,716.25L471.25,723.75ZM473.76,717.37L481.26,717.37L477.51,724.87ZM480.02,718.35L487.52,718.35L483.77,725.85ZM486.28,719.10L493.78,719.10L490.03,726.60ZM492.53,719.77L500.03,719.77L496.28,727.27ZM498.79,720.32L506.29,720.32L502.54,727.82ZM505.05,720.75L512.55,720.75L508.80,728.25ZM511.31,721.08L518.81,721.08L515.06,728.58ZM517.57,721.38L525.07,721.38L521.32,728.88ZM523.82,721.64L531.32,721.64L527.57,729.14ZM530.08,721.87L537.58,721.87L533.83,729.37ZM536.34,722.08L543.84,722.08L540.09,729.58ZM542.60,722.28L550.10,722.28L546.35,729.78ZM548.86,722.46L556.36,722.46L552.61,729.96ZM555.11,722.65L562.61,722.65L558.86,730.15ZM561.37,722.85L568.87,722.85L565.12,730.35ZM567.63,723.05L575.13,723.05L571.38,730.55ZM573.89,723.25L581.39,723.25L577.64,730.75ZM580.15,723.43L587.65,723.43L583.90,730.93ZM586.40,723.58L593.90,723.58L590.15,731.08ZM592.66,723.69L600.16,723.69L596.41,731.19ZM598.92,723.75L606.42,723.75L602.67,731.25ZM605.18,723.78L612.68,723.78L608.93,731.28ZM611.44,723.80L618.94,723.80L615.19,731.30ZM617.69,723.82L625.19,723.82L621.44,731.32ZM623.95,723.85L631.45,723.85L627.70,731.35ZM630.21,723.87L637.71,723.87L633.96,731.37ZM636.47,723.89L643.97,723.89L640.22,731.39ZM642.73,723.91L650.23,723.91L646.48,731.41ZM648.98,723.93L656.48,723.93L652.73,731.43ZM655.24,723.95L662.74,723.95L658.99,731.45ZM661.50,723.97L669.00,723.97L665.25,731.47ZM667.76,723.98L675.26,723.98L671.51,731.48ZM674.02,724.00L681.52,724.00L677.77,731.50ZM680.27,724.02L687.77,724.02L684.02,731.52ZM686.53,724.03L694.03,724.03L690.28,731.53ZM692.79,724.05L700.29,724.05L696.54,731.55ZM699.05,724.06L706.55,724.06L702.80,731.56ZM705.31,724.07L712.81,724.07L709.06,731.57ZM711.56,724.09L719.06,724.09L715.31,731.59ZM717.82,724.10L725.32,724.10L721.57,731.60ZM724.08,724.11L731.58,724.11L727.83,731.61ZM730.34,724.12L737.84,724.12L734.09,731.62ZM736.60,724.13L744.10,724.13L740.35,731.63ZM742.85,724.14L750.35,724.14L746.60,731.64ZM749.11,724.15L756.61,724.15L752.86,731.65ZM755.37,724.16L762.87,724.16L759.12,731.66ZM761.63,724.17L769.13,724.17L765.38,731.67ZM767.89,724.18L775.39,724.18L771.64,731.68ZM774.14,724.19L781.64,724.19L777.89,731.69ZM780.40,724.19L787.90,724.19L784.15,731.69ZM786.66,724.20L794.16,724.20L790.41,731.70ZM792.92,724.21L800.42,724.21L796.67,731.71ZM799.18,724.21L806.68,724.21L802.93,731.71ZM805.43,724.22L812.93,724.22L809.18,731.72ZM811.69,724.22L819.19,724.22L815.44,731.72ZM817.95,724.23L825.45,724.23L821.70,731.73ZM824.21,724.23L831.71,724.23L827.96,731.73ZM830.47,724.23L837.97,724.23L834.22,731.73ZM836.72,724.24L844.22,724.24L840.47,731.74ZM842.98,724.24L850.48,724.24L846.73,731.74ZM849.24,724.24L856.74,724.24L852.99,731.74ZM855.50,724.24L863.00,724.24L859.25,731.74ZM861.76,724.25L869.26,724.25L865.51,731.75ZM868.01,724.25L875.51,724.25L871.76,731.75ZM874.27,724.25L881.77,724.25L878.02,731.75ZM880.53,724.25L888.03,724.25L884.28,731.75ZM886.79,724.25L894.29,724.25L890.54,731.75ZM893.05,724.25L900.55,724.25L896.80,731.75Z" fill="#ff7f0e" stroke="#ff7f0e" stroke-width="2.5" stroke-linejoin="miter" stroke-miterlimit="10"/>
</g>
<g clip-path="url(#clipc)"><polyline points="1095.80,354.80 1098.97,353.84 1102.14,352.64 1105.31,351.29 1108.48,349.88 1111.65,348.43 1114.82,346.90 1117.99,345.31 1121.16,343.73 1124.33,342.13 1127.50,340.37 1130.67,338.31 1133.84,335.93 1137.00,333.20 1140.17,329.95 1143.34,326.76 1146.51,323.70 1149.68,320.96 1152.85,319.19 1156.02,318.38 1159.19,318.13 1162.36,318.00 1165.53,317.85 1168.70,317.57 1171.87,317.13 1175.04,316.54 1178.21,315.80 1181.38,314.93 1184.55,313.69 1187.72,311.84 1190.89,309.54 1194.06,306.77 1197.23,303.05 1200.40,298.91 1203.57,294.63 1206.74,289.43 1209.91,281.84 1213.08,273.08 1216.24,262.07 1219.41,249.94 1222.58,236.41 1225.75,221.44 1228.92,207.25 1232.09,191.62 1235.26,174.60 1238.43,160.01 1241.60,146.20 1244.77,135.21 1247.94,127.68 1251.11,122.69 1254.28,120.31 1257.45,118.89 1260.62,118.21 1263.79,118.00 1266.96,117.86 1270.13,117.80 1273.30,117.86 1276.47,118.03 1279.64,118.18 1282.81,118.12 1285.98,117.67 1289.15,117.06 1292.32,116.47 1295.48,115.82 1298.65,115.07 1301.82,114.23 1304.99,113.27 1308.16,112.14 1311.33,110.80 1314.50,109.24 1317.67,107.44 1320.84,105.41 1324.01,102.91 1327.18,99.79 1330.35,96.22 1333.52,92.27 1336.69,87.55 1339.86,82.60 1343.03,77.80 1346.20,72.20 1349.37,64.59 1352.54,55.51 1355.71,44.41 1358.88,34.17 1362.05,26.20 1365.22,20.47 1368.39,17.64 1371.56,18.67 1374.72,21.78 1377.89,27.19 1381.06,35.86 1384.23,42.88 1387.40,48.71 1390.57,54.74 1393.74,61.79 1396.91,68.96 1400.08,75.26 1403.25,81.08 1406.42,86.40 1409.59,91.27 1412.76,95.74 1415.93,99.65 1419.10,102.90 1422.27,105.80 1425.44,108.69 1428.61,111.65 1431.78,114.49 1434.95,117.06 1438.12,119.46 1441.29,121.74 1444.46,123.92 1447.63,125.99 1450.80,127.97 1453.96,129.86 1457.13,131.67 1460.30,133.40 1463.47,135.06 1466.64,136.66 1469.81,138.20 1472.98,139.69 1476.15,141.14 1479.32,142.53 1482.49,143.87 1485.66,145.16 1488.83,146.38 1492.00,147.54 1495.17,148.65 1498.34,149.72 1501.51,150.79 1504.68,151.86 1507.85,152.95 1511.02,154.05 1514.19,155.15 1517.36,156.22 1520.53,157.25 1523.70,158.20 1526.87,159.12 1530.04,160.02 1533.20,160.88 1536.37,161.72 1539.54,162.54 1542.71,163.32 1545.88,164.07 1549.05,164.79 1552.22,165.48 1555.39,166.16 1558.56,166.82 1561.73,167.47 1564.90,168.10 1568.07,168.72 1571.24,169.33 1574.41,169.92 1577.58,170.51 1580.75,171.08 1583.92,171.63 1587.09,172.18 1590.26,172.72 1593.43,173.24 1596.60,173.76 1599.77,174.26 1602.94,174.76 1606.11,175.25 1609.28,175.73 1612.44,176.21 1615.61,176.68 1618.78,177.15 1621.95,177.61 1625.12,178.06 1628.29,178.50 1631.46,178.93 1634.63,179.36 1637.80,179.77 1640.97,180.17 1644.14,180.56 1647.31,180.94 1650.48,181.30 1653.65,181.65 1656.82,181.98 1659.99,182.30 1663.16,182.60 1666.33,182.89 1669.50,183.18 1672.67,183.45 1675.84,183.72 1679.01,183.98 1682.18,184.23 1685.35,184.47 1688.52,184.71 1691.68,184.95 1694.85,185.18 1698.02,185.41 1701.19,185.63 1704.36,185.86 1707.53,186.08 1710.70,186.30 1713.87,186.53 1717.04,186.75 1720.21,186.97 1723.38,187.19 1726.55,187.41 1729.72,187.63 1732.89,187.84 1736.06,188.05 1739.23,188.26 1742.40,188.47 1745.57,188.67 1748.74,188.87 1751.91,189.06 1755.08,189.26 1758.25,189.44 1761.42,189.63 1764.59,189.81 1767.76,189.99 1770.92,190.16 1774.09,190.33 1777.26,190.50 1780.43,190.66 1783.60,190.83 1786.77,190.99 1789.94,191.15 1793.11,191.30 1796.28,191.46 1799.45,191.61 1802.62,191.75 1805.79,191.90 1808.96,192.04 1812.13,192.18 1815.30,192.31 1818.47,192.44 1821.64,192.57 1824.81,192.69 1827.98,192.82 1831.15,192.94 1834.32,193.06 1837.49,193.18 1840.66,193.30 1843.83,193.41 1847.00,193.53 1850.16,193.64 1853.33,193.75 1856.50,193.86 1859.67,193.96 1862.84,194.06 1866.01,194.17 1869.18,194.26 1872.35,194.36 1875.52,194.45 1878.69,194.54 1881.86,194.63 1885.03,194.72 1888.20,194.80" fill="none" stroke="#1f77b4" stroke-width="3.75" stroke-linejoin="round"/>
<g fill="#1f77b4"><circle cx="1095.80" cy="354.80" r="5.0"/><circle cx="1098.97" cy="353.84" r="5.0"/><circle cx="1102.14" cy="352.64" r="5.0"/><circle cx="1105.31" cy="351.29" r="5.0"/><circle cx="1108.48" cy="349.88" r="5.0"/><circle cx="1111.65" cy="348.43" r="5.0"/><circle cx="1114.82" cy="346.90" r="5.0"/><circle cx="1117.99" cy="345.31" r="5.0"/><circle cx="1121.16" cy="343.73" r="5.0"/><circle cx="1124.33" cy="342.13" r="5.0"/><circle cx="1127.50" cy="340.37" r="5.0"/><circle cx="1130.67" cy="338.31" r="5.0"/><circle cx="1133.84" cy="335.93" r="5.0"/><circle cx="1137.00" cy="333.20" r="5.0"/><circle cx="1140.17" cy="329.95" r="5.0"/><circle cx="1143.34" cy="326.76" r="5.0"/><circle cx="1146.51" cy="323.70" r="5.0"/><circle cx="1149.68" cy="320.96" r="5.0"/><circle cx="1152.85" cy="319.19" r="5.0"/><circle cx="1156.02" cy="318.38" r="5.0"/><circle cx="1159.19" cy="318.13" r="5.0"/><circle cx="1162.36" cy="318.00" r="5.0"/><circle cx="1165.53" cy="317.85" r="5.0"/><circle cx="1168.70" cy="317.57" r="5.0"/><circle cx="1171.87" cy="317.13" r="5.0"/><circle cx="1175.04" cy="316.54" r="5.0"/><circle cx="1178.21" cy="315.80" r="5.0"/><circle cx="1181.38" cy="314.93" r="5.0"/><circle cx="1184.55" cy="313.69" r="5.0"/><circle cx="1187.72" cy="311.84" r="5.0"/><circle cx="1190.89" cy="309.54" r="5.0"/><circle cx="1194.06" cy="306.77" r="5.0"/><circle cx="1197.23" cy="303.05" r="5.0"/><circle cx="1200.40" cy="298.91" r="5.0"/><circle cx="1203.57" cy="294.63" r="5.0"/><circle cx="1206.74" cy="289.43" r="5.0"/><circle cx="1209.91" cy="281.84" r="5.0"/><circle cx="1213.08" cy="273.08" r="5.0"/><circle cx="1216.24" cy="262.07" r="5.0"/><circle cx="1219.41" cy="249.94" r="5.0"/><circle cx="1222.58" cy="236.41" r="5.0"/><circle cx="1225.75" cy="221.44" r="5.0"/><circle cx="1228.92" cy="207.25" r="5.0"/><circle cx="1232.09" cy="191.62" r="5.0"/><circle cx="1235.26" cy="174.60" r="5.0"/><circle cx="1238.43" cy="160.01" r="5.0"/><circle cx="1241.60" cy="146.20" r="5.0"/><circle cx="1244.77" cy="135.21" r="5.0"/><circle cx="1247.94" cy="127.68" r="5.0"/><circle cx="1251.11" cy="122.69" r="5.0"/><circle cx="1254.28" cy="120.31" r="5.0"/><circle cx="1257.45" cy="118.89" r="5.0"/><circle cx="1260.62" cy="118.21" r="5.0"/><circle cx="1263.79" cy="118.00" r="5.0"/><circle cx="1266.96" cy="117.86" r="5.0"/><circle cx="1270.13" cy="117.80" r="5.0"/><circle cx="1273.30" cy="117.86" r="5.0"/><circle cx="1276.47" cy="118.03" r="5.0"/><circle cx="1279.64" cy="118.18" r="5.0"/><circle cx="1282.81" cy="118.12" r="5.0"/><circle cx="1285.98" cy="117.67" r="5.0"/><circle cx="1289.15" cy="117.06" r="5.0"/><circle cx="1292.32" cy="116.47" r="5.0"/><circle cx="1295.48" cy="115.82" r="5.0"/><circle cx="1298.65" cy="115.07" r="5.0"/><circle cx="1301.82" cy="114.23" r="5.0"/><circle cx="1304.99" cy="113.27" r="5.0"/><circle cx="1308.16" cy="112.14" r="5.0"/><circle cx="1311.33" cy="110.80" r="5.0"/><circle cx="1314.50" cy="109.24" r="5.0"/><circle cx="1317.67" cy="107.44" r="5.0"/><circle cx="1320.84" cy="105.41" r="5.0"/><circle cx="1324.01" cy="102.91" r="5.0"/><circle cx="1327.18" cy="99.79" r="5.0"/><circle cx="1330.35" cy="96.22" r="5.0"/><circle cx="1333.52" cy="92.27" r="5.0"/><circle cx="1336.69" cy="87.55" r="5.0"/><circle cx="1339.86" cy="82.60" r="5.0"/><circle cx="1343.03" cy="77.80" r="5.0"/><circle cx="1346.20" cy="72.20" r="5.0"/><circle cx="1349.37" cy="64.59" r="5.0"/><circle cx="1352.54" cy="55.51" r="5.0"/><circle cx="1355.71" cy="44.41" r="5.0"/><circle cx="1358.88" cy="34.17" r="5.0"/><circle cx="1362.05" cy="26.20" r="5.0"/><circle cx="1365.22" cy="20.47" r="5.0"/><circle cx="1368.39" cy="17.64" r="5.0"/><circle cx="1371.56" cy="18.67" r="5.0"/><circle cx="1374.72" cy="21.78" r="5.0"/><circle cx="1377.89" cy="27.19" r="5.0"/><circle cx="1381.06" cy="35.86" r="5.0"/><circle cx="1384.23" cy="42.88" r="5.0"/><circle cx="1387.40" cy="48.71" r="5.0"/><circle cx="1390.57" cy="54.74" r="5.0"/><circle cx="1393.74" cy="61.79" r="5.0"/><circle cx="1396.91" cy="68.96" r="5.0"/><circle cx="1400.08" cy="75.26" r="5.0"/><circle cx="1403.25" cy="81.08" r="5.0"/><circle cx="1406.42" cy="86.40" r="5.0"/><circle cx="1409.59" cy="91.27" r="5.0"/><circle cx="1412.76" cy="95.74" r="5.0"/><circle cx="1415.93" cy="99.65" r="5.0"/><circle cx="1419.10" cy="102.90" r="5.0"/><circle cx="1422.27" cy="105.80" r="5.0"/><circle cx="1425.44" cy="108.69" r="5.0"/><circle cx="1428.61" cy="111.65" r="5.0"/><circle cx="1431.78" cy="114.49" r="5.0"/><circle cx="1434.95" cy="117.06" r="5.0"/><circle cx="1438.12" cy="119.46" r="5.0"/><circle cx="1441.29" cy="121.74" r="5.0"/><circle cx="1444.46" cy="123.92" r="5.0"/><circle cx="1447.63" cy="125.99" r="5.0"/><circle cx="1450.80" cy="127.97" r="5.0"/><circle cx="1453.96" cy="129.86" r="5.0"/><circle cx="1457.13" cy="131.67" r="5.0"/><circle cx="1460.30" cy="133.40" r="5.0"/><circle cx="1463.47" cy="135.06" r="5.0"/><circle cx="1466.64" cy="136.66" r="5.0"/><circle cx="1469.81" cy="138.20" r="5.0"/><circle cx="1472.98" cy="139.69" r="5.0"/><circle cx="1476.15" cy="141.14" r="5.0"/><circle cx="1479.32" cy="142.53" r="5.0"/><circle cx="1482.49" cy="143.87" r="5.0"/><circle cx="1485.66" cy="145.16" r="5.0"/><circle cx="1488.83" cy="146.38" r="5.0"/><circle cx="1492.00" cy="147.54" r="5.0"/><circle cx="1495.17" cy="148.65" r="5.0"/><circle cx="1498.34" cy="149.72" r="5.0"/><circle cx="1501.51" cy="150.79" r="5.0"/><circle cx="1504.68" cy="151.86" r="5.0"/><circle cx="1507.85" cy="152.95" r="5.0"/><circle cx="1511.02" cy="154.05" r="5.0"/><circle cx="1514.19" cy="155.15" r="5.0"/><circle cx="1517.36" cy="156.22" r="5.0"/><circle cx="1520.53" cy="157.25" r="5.0"/><circle cx="1523.70" cy="158.20" r="5.0"/><circle cx="1526.87" cy="159.12" r="5.0"/><circle cx="1530.04" cy="160.02" r="5.0"/><circle cx="1533.20" cy="160.88" r="5.0"/><circle cx="1536.37" cy="161.72" r="5.0"/><circle cx="1539.54" cy="162.54" r="5.0"/><circle cx="1542.71" cy="163.32" r="5.0"/><circle cx="1545.88" cy="164.07" r="5.0"/><circle cx="1549.05" cy="164.79" r="5.0"/><circle cx="1552.22" cy="165.48" r="5.0"/><circle cx="1555.39" cy="166.16" r="5.0"/><circle cx="1558.56" cy="166.82" r="5.0"/><circle cx="1561.73" cy="167.47" r="5.0"/><circle cx="1564.90" cy="168.10" r="5.0"/><circle cx="1568.07" cy="168.72" r="5.0"/><circle cx="1571.24" cy="169.33" r="5.0"/><circle cx="1574.41" cy="169.92" r="5.0"/><circle cx="1577.58" cy="170.51" r="5.0"/><circle cx="1580.75" cy="171.08" r="5.0"/><circle cx="1583.92" cy="171.63" r="5.0"/><circle cx="1587.09" cy="172.18" r="5.0"/><circle cx="1590.26" cy="172.72" r="5.0"/><circle cx="1593.43" cy="173.24" r="5.0"/><circle cx="1596.60" cy="173.76" r="5.0"/><circle cx="1599.77" cy="174.26" r="5.0"/><circle cx="1602.94" cy="174.76" r="5.0"/><circle cx="1606.11" cy="175.25" r="5.0"/><circle cx="1609.28" cy="175.73" r="5.0"/><circle cx="1612.44" cy="176.21" r="5.0"/><circle cx="1615.61" cy="176.68" r="5.0"/><circle cx="1618.78" cy="177.15" r="5.0"/><circle cx="1621.95" cy="177.61" r="5.0"/><circle cx="1625.12" cy="178.06" r="5.0"/><circle cx="1628.29" cy="178.50" r="5.0"/><circle cx="1631.46" cy="178.93" r="5.0"/><circle cx="1634.63" cy="179.36" r="5.0"/><circle cx="1637.80" cy="179.77" r="5.0"/><circle cx="1640.97" cy="180.17" r="5.0"/><circle cx="1644.14" cy="180.56" r="5.0"/><circle cx="1647.31" cy="180.94" r="5.0"/><circle cx="1650.48" cy="181.30" r="5.0"/><circle cx="1653.65" cy="181.65" r="5.0"/><circle cx="1656.82" cy="181.98" r="5.0"/><circle cx="1659.99" cy="182.30" r="5.0"/><circle cx="1663.16" cy="182.60" r="5.0"/><circle cx="1666.33" cy="182.89" r="5.0"/><circle cx="1669.50" cy="183.18" r="5.0"/><circle cx="1672.67" cy="183.45" r="5.0"/><circle cx="1675.84" cy="183.72" r="5.0"/><circle cx="1679.01" cy="183.98" r="5.0"/><circle cx="1682.18" cy="184.23" r="5.0"/><circle cx="1685.35" cy="184.47" r="5.0"/><circle cx="1688.52" cy="184.71" r="5.0"/><circle cx="1691.68" cy="184.95" r="5.0"/><circle cx="1694.85" cy="185.18" r="5.0"/><circle cx="1698.02" cy="185.41" r="5.0"/><circle cx="1701.19" cy="185.63" r="5.0"/><circle cx="1704.36" cy="185.86" r="5.0"/><circle cx="1707.53" cy="186.08" r="5.0"/><circle cx="1710.70" cy="186.30" r="5.0"/><circle cx="1713.87" cy="186.53" r="5.0"/><circle cx="1717.04" cy="186.75" r="5.0"/><circle cx="1720.21" cy="186.97" r="5.0"/><circle cx="1723.38" cy="187.19" r="5.0"/><circle cx="1726.55" cy="187.41" r="5.0"/><circle cx="1729.72" cy="187.63" r="5.0"/><circle cx="1732.89" cy="187.84" r="5.0"/><circle cx="1736.06" cy="188.05" r="5.0"/><circle cx="1739.23" cy="188.26" r="5.0"/><circle cx="1742.40" cy="188.47" r="5.0"/><circle cx="1745.57" cy="188.67" r="5.0"/><circle cx="1748.74" cy="188.87" r="5.0"/><circle cx="1751.91" cy="189.06" r="5.0"/><circle cx="1755.08" cy="189.26" r="5.0"/><circle cx="1758.25" cy="189.44" r="5.0"/><circle cx="1761.42" cy="189.63" r="5.0"/><circle cx="1764.59" cy="189.81" r="5.0"/><circle cx="1767.76" cy="189.99" r="5.0"/><circle cx="1770.92" cy="190.16" r="5.0"/><circle cx="1774.09" cy="190.33" r="5.0"/><circle cx="1777.26" cy="190.50" r="5.0"/><circle cx="1780.43" cy="190.66" r="5.0"/><circle cx="1783.60" cy="190.83" r="5.0"/><circle cx="1786.77" cy="190.99" r="5.0"/><circle cx="1789.94" cy="191.15" r="5.0"/><circle cx="1793.11" cy="191.30" r="5.0"/><circle cx="1796.28" cy="191.46" r="5.0"/><circle cx="1799.45" cy="191.61" r="5.0"/><circle cx="1802.62" cy="191.75" r="5.0"/><circle cx="1805.79" cy="191.90" r="5.0"/><circle cx="1808.96" cy="192.04" r="5.0"/><circle cx="1812.13" cy="192.18" r="5.0"/><circle cx="1815.30" cy="192.31" r="5.0"/><circle cx="1818.47" cy="192.44" r="5.0"/><circle cx="1821.64" cy="192.57" r="5.0"/><circle cx="1824.81" cy="192.69" r="5.0"/><circle cx="1827.98" cy="192.82" r="5.0"/><circle cx="1831.15" cy="192.94" r="5.0"/><circle cx="1834.32" cy="193.06" r="5.0"/><circle cx="1837.49" cy="193.18" r="5.0"/><circle cx="1840.66" cy="193.30" r="5.0"/><circle cx="1843.83" cy="193.41" r="5.0"/><circle cx="1847.00" cy="193.53" r="5.0"/><circle cx="1850.16" cy="193.64" r="5.0"/><circle cx="1853.33" cy="193.75" r="5.0"/><circle cx="1856.50" cy="193.86" r="5.0"/><circle cx="1859.67" cy="193.96" r="5.0"/><circle cx="1862.84" cy="194.06" r="5.0"/><circle cx="1866.01" cy="194.17" r="5.0"/><circle cx="1869.18" cy="194.26" r="5.0"/><circle cx="1872.35" cy="194.36" r="5.0"/><circle cx="1875.52" cy="194.45" r="5.0"/><circle cx="1878.69" cy="194.54" r="5.0"/><circle cx="1881.86" cy="194.63" r="5.0"/><circle cx="1885.03" cy="194.72" r="5.0"/><circle cx="1888.20" cy="194.80" r="5.0"/></g>
</g>
<polyline points="1382.20,31.90 1383.48,35.05 1384.76,38.16 1386.04,41.24 1387.32,44.30 1388.60,47.32 1389.88,50.30 1391.16,53.27 1392.44,56.24 1393.72,59.20 1395.00,62.11 1396.28,64.92 1397.56,67.62 1398.84,70.18 1400.12,72.67 1401.40,75.09 1402.68,77.44 1403.96,79.70 1405.24,81.88 1406.52,83.96 1407.80,85.96 1409.08,87.90 1410.36,89.78 1411.64,91.59 1412.92,93.32 1414.21,94.97 1415.49,96.53 1416.77,98.00 1418.05,99.37 1419.33,100.68 1420.61,101.93 1421.89,103.16 1423.17,104.36 1424.45,105.56 1425.73,106.77 1427.01,107.98 1428.29,109.17 1429.57,110.34 1430.85,111.48 1432.13,112.59 1433.41,113.65 1434.69,114.66 1435.97,115.66 1437.25,116.64 1438.53,117.61 1439.81,118.55 1441.09,119.48 1442.37,120.39 1443.65,121.28 1444.93,122.15 1446.21,123.01 1447.49,123.86 1448.77,124.69 1450.05,125.50 1451.33,126.30 1452.61,127.08 1453.89,127.85 1455.17,128.60 1456.45,129.34 1457.73,130.07 1459.01,130.79 1460.29,131.49 1461.57,132.18 1462.85,132.87 1464.13,133.54 1465.41,134.20 1466.69,134.85 1467.97,135.49 1469.25,136.13 1470.53,136.76 1471.81,137.38 1473.09,137.99 1474.37,138.59 1475.65,139.19 1476.93,139.78 1478.22,140.36 1479.50,140.93 1480.78,141.49 1482.06,142.04 1483.34,142.58 1484.62,143.12 1485.90,143.64 1487.18,144.15 1488.46,144.65 1489.74,145.14 1491.02,145.62 1492.30,146.08 1493.58,146.54 1494.86,147.00 1496.14,147.44 1497.42,147.88 1498.70,148.32 1499.98,148.76 1501.26,149.19 1502.54,149.62 1503.82,150.06 1505.10,150.50 1506.38,150.94 1507.66,151.39 1508.94,151.85 1510.22,152.30 1511.50,152.75 1512.78,153.20 1514.06,153.65 1515.34,154.09 1516.62,154.52 1517.90,154.95 1519.18,155.36 1520.46,155.76 1521.74,156.14 1523.02,156.51 1524.30,156.86 1525.58,157.20 1526.86,157.54 1528.14,157.87 1529.42,158.19 1530.70,158.50 1531.98,158.81 1533.26,159.11 1534.54,159.41 1535.82,159.71 1537.10,160.00 1538.38,160.28 1539.66,160.57 1540.94,160.85 1542.23,161.13 1543.51,161.40 1544.79,161.68 1546.07,161.95 1547.35,162.23 1548.63,162.50 1549.91,162.78 1551.19,163.06 1552.47,163.33 1553.75,163.61 1555.03,163.89 1556.31,164.16 1557.59,164.44 1558.87,164.72 1560.15,164.99 1561.43,165.27 1562.71,165.54 1563.99,165.81 1565.27,166.09 1566.55,166.36 1567.83,166.63 1569.11,166.90 1570.39,167.17 1571.67,167.44 1572.95,167.70 1574.23,167.97 1575.51,168.23 1576.79,168.49 1578.07,168.75 1579.35,169.01 1580.63,169.27 1581.91,169.52 1583.19,169.77 1584.47,170.02 1585.75,170.27 1587.03,170.52 1588.31,170.76 1589.59,171.00 1590.87,171.24 1592.15,171.48 1593.43,171.71 1594.71,171.94 1595.99,172.17 1597.27,172.39 1598.55,172.61 1599.83,172.83 1601.11,173.05 1602.39,173.26 1603.67,173.47 1604.95,173.67 1606.24,173.88 1607.52,174.08 1608.80,174.28 1610.08,174.48 1611.36,174.68 1612.64,174.88 1613.92,175.07 1615.20,175.27 1616.48,175.46 1617.76,175.65 1619.04,175.84 1620.32,176.03 1621.60,176.22 1622.88,176.40 1624.16,176.59 1625.44,176.77 1626.72,176.95 1628.00,177.13 1629.28,177.31 1630.56,177.48 1631.84,177.66 1633.12,177.83 1634.40,178.00 1635.68,178.17 1636.96,178.33 1638.24,178.50 1639.52,178.66 1640.80,178.82 1642.08,178.98 1643.36,179.14 1644.64,179.30 1645.92,179.45 1647.20,179.60 1648.48,179.75 1649.76,179.90 1651.04,180.04 1652.32,180.19 1653.60,180.33 1654.88,180.47 1656.16,180.60 1657.44,180.74 1658.72,180.87 1660.00,181.00 1661.28,181.13 1662.56,181.26 1663.84,181.38 1665.12,181.51 1666.40,181.63 1667.68,181.75 1668.96,181.87 1670.25,181.98 1671.53,182.10 1672.81,182.21 1674.09,182.33 1675.37,182.44 1676.65,182.55 1677.93,182.66 1679.21,182.77 1680.49,182.88 1681.77,182.98 1683.05,183.09 1684.33,183.19 1685.61,183.29 1686.89,183.40 1688.17,183.50 1689.45,183.60 1690.73,183.70 1692.01,183.80 1693.29,183.90 1694.57,183.99 1695.85,184.09 1697.13,184.19 1698.41,184.29 1699.69,184.38 1700.97,184.48 1702.25,184.57 1703.53,184.67 1704.81,184.76 1706.09,184.86 1707.37,184.95 1708.65,185.04 1709.93,185.14 1711.21,185.23 1712.49,185.33 1713.77,185.42 1715.05,185.51 1716.33,185.61 1717.61,185.70 1718.89,185.79 1720.17,185.88 1721.45,185.98 1722.73,186.07 1724.01,186.16 1725.29,186.25 1726.57,186.34 1727.85,186.43 1729.13,186.52 1730.41,186.61 1731.69,186.69 1732.97,186.78 1734.26,186.87 1735.54,186.96 1736.82,187.04 1738.10,187.13 1739.38,187.21 1740.66,187.30 1741.94,187.38 1743.22,187.47 1744.50,187.55 1745.78,187.64 1747.06,187.72 1748.34,187.80 1749.62,187.88 1750.90,187.96 1752.18,188.04 1753.46,188.12 1754.74,188.20 1756.02,188.28 1757.30,188.36 1758.58,188.44 1759.86,188.52 1761.14,188.60 1762.42,188.67 1763.70,188.75 1764.98,188.82 1766.26,188.90 1767.54,188.97 1768.82,189.05 1770.10,189.12 1771.38,189.19 1772.66,189.27 1773.94,189.34 1775.22,189.41 1776.50,189.49 1777.78,189.56 1779.06,189.63 1780.34,189.70 1781.62,189.77 1782.90,189.85 1784.18,189.92 1785.46,189.99 1786.74,190.06 1788.02,190.13 1789.30,190.19 1790.58,190.26 1791.86,190.33 1793.14,190.40 1794.42,190.47 1795.70,190.53 1796.98,190.60 1798.27,190.67 1799.55,190.73 1800.83,190.80 1802.11,190.86 1803.39,190.92 1804.67,190.99 1805.95,191.05 1807.23,191.11 1808.51,191.17 1809.79,191.24 1811.07,191.30 1812.35,191.36 1813.63,191.41 1814.91,191.47 1816.19,191.53 1817.47,191.59 1818.75,191.64 1820.03,191.70 1821.31,191.75 1822.59,191.81 1823.87,191.86 1825.15,191.91 1826.43,191.97 1827.71,192.02 1828.99,192.07 1830.27,192.12 1831.55,192.17 1832.83,192.21 1834.11,192.26 1835.39,192.31 1836.67,192.36 1837.95,192.40 1839.23,192.45 1840.51,192.49 1841.79,192.54 1843.07,192.58 1844.35,192.63 1845.63,192.67 1846.91,192.72 1848.19,192.76 1849.47,192.80 1850.75,192.85 1852.03,192.89 1853.31,192.93 1854.59,192.97 1855.87,193.01 1857.15,193.06 1858.43,193.10 1859.71,193.14 1860.99,193.18 1862.28,193.22 1863.56,193.27 1864.84,193.31 1866.12,193.35 1867.40,193.39 1868.68,193.44 1869.96,193.48 1871.24,193.52 1872.52,193.56 1873.80,193.61 1875.08,193.65 1876.36,193.69 1877.64,193.74 1878.92,193.78 1880.20,193.83 1881.48,193.87 1882.76,193.92 1884.04,193.96 1885.32,194.01 1886.60,194.06 1887.88,194.10 1889.16,194.15 1890.44,194.20 1891.72,194.25 1893.00,194.30" fill="none" stroke="#ff7f0e" stroke-width="11" stroke-linejoin="round" stroke-linecap="butt"/>
<g clip-path="url(#clipd)"><polyline points="1095.80,554.50 1098.97,552.93 1102.14,550.97 1105.31,548.78 1108.48,546.46 1111.65,544.13 1114.82,541.90 1117.99,539.72 1121.16,537.54 1124.33,535.28 1127.50,532.87 1130.67,530.15 1133.84,527.45 1137.00,525.12 1140.17,523.27 1143.34,521.68 1146.51,520.69 1149.68,520.25 1152.85,519.95 1156.02,519.46 1159.19,517.89 1162.36,514.77 1165.53,511.45 1168.70,507.61 1171.87,503.54 1175.04,499.51 1178.21,495.32 1181.38,490.60 1184.55,484.73 1187.72,478.96 1190.89,472.51 1194.06,465.57 1197.23,457.83 1200.40,449.88 1203.57,440.71 1206.74,431.98 1209.91,423.27 1213.08,413.76 1216.24,406.82 1219.41,399.52 1222.58,392.91 1225.75,388.53 1228.92,387.10 1232.09,387.15 1235.26,389.79 1238.43,401.03 1241.60,411.35 1244.77,423.72 1247.94,437.90 1251.11,451.36 1254.28,462.23 1257.45,472.74 1260.62,481.56 1263.79,490.25 1266.96,498.28 1270.13,504.95 1273.30,510.63 1276.47,515.28 1279.64,519.27 1282.81,522.90 1285.98,526.37 1289.15,529.64 1292.32,532.61 1295.48,535.21 1298.65,537.57 1301.82,539.70 1304.99,541.60 1308.16,543.41 1311.33,545.05 1314.50,546.32 1317.67,547.25 1320.84,548.08 1324.01,548.61 1327.18,548.69 1330.35,548.60 1333.52,548.46 1336.69,548.29 1339.86,548.00 1343.03,547.68 1346.20,547.90 1349.37,551.11 1352.54,555.44 1355.71,561.38 1358.88,571.81 1362.05,587.41 1365.22,602.97 1368.39,619.86 1371.56,638.55 1374.72,654.36 1377.89,666.96 1381.06,676.49 1384.23,685.83 1387.40,693.47 1390.57,700.23 1393.74,705.76 1396.91,710.23 1400.08,714.14 1403.25,717.51 1406.42,720.37 1409.59,722.81 1412.76,724.97 1415.93,726.77 1419.10,728.15 1422.27,729.27 1425.44,730.27 1428.61,731.13 1431.78,731.84 1434.95,732.38 1438.12,732.79 1441.29,733.16 1444.46,733.49 1447.63,733.78 1450.80,734.03 1453.96,734.23 1457.13,734.39 1460.30,734.51 1463.47,734.60 1466.64,734.69 1469.81,734.78 1472.98,734.85 1476.15,734.93 1479.32,734.99 1482.49,735.05 1485.66,735.10 1488.83,735.14 1492.00,735.17 1495.17,735.19 1498.34,735.20 1501.51,735.20 1504.68,735.19 1507.85,735.17 1511.02,735.15 1514.19,735.11 1517.36,735.08 1520.53,735.03 1523.70,734.99 1526.87,734.94 1530.04,734.90 1533.20,734.85 1536.37,734.80 1539.54,734.76 1542.71,734.72 1545.88,734.69 1549.05,734.66 1552.22,734.62 1555.39,734.58 1558.56,734.55 1561.73,734.51 1564.90,734.47 1568.07,734.43 1571.24,734.40 1574.41,734.36 1577.58,734.33 1580.75,734.30 1583.92,734.27 1587.09,734.25 1590.26,734.23 1593.43,734.21 1596.60,734.20 1599.77,734.20 1602.94,734.20 1606.11,734.20 1609.28,734.20 1612.44,734.20 1615.61,734.20 1618.78,734.20 1621.95,734.20 1625.12,734.20 1628.29,734.20 1631.46,734.20 1634.63,734.20 1637.80,734.20 1640.97,734.20 1644.14,734.20 1647.31,734.20 1650.48,734.20 1653.65,734.20 1656.82,734.20 1659.99,734.20 1663.16,734.20 1666.33,734.20 1669.50,734.20 1672.67,734.20 1675.84,734.20 1679.01,734.20 1682.18,734.20 1685.35,734.20 1688.52,734.20 1691.68,734.20 1694.85,734.20 1698.02,734.20 1701.19,734.20 1704.36,734.20 1707.53,734.20 1710.70,734.20 1713.87,734.20 1717.04,734.20 1720.21,734.20 1723.38,734.20 1726.55,734.20 1729.72,734.20 1732.89,734.20 1736.06,734.20 1739.23,734.20 1742.40,734.20 1745.57,734.20 1748.74,734.20 1751.91,734.20 1755.08,734.20 1758.25,734.20 1761.42,734.20 1764.59,734.20 1767.76,734.20 1770.92,734.20 1774.09,734.20 1777.26,734.20 1780.43,734.20 1783.60,734.20 1786.77,734.20 1789.94,734.20 1793.11,734.20 1796.28,734.20 1799.45,734.20 1802.62,734.20 1805.79,734.20 1808.96,734.20 1812.13,734.20 1815.30,734.20 1818.47,734.20 1821.64,734.20 1824.81,734.20 1827.98,734.20 1831.15,734.20 1834.32,734.20 1837.49,734.20 1840.66,734.20 1843.83,734.20 1847.00,734.20 1850.16,734.20 1853.33,734.20 1856.50,734.20 1859.67,734.20 1862.84,734.20 1866.01,734.20 1869.18,734.20 1872.35,734.20 1875.52,734.20 1878.69,734.20 1881.86,734.20 1885.03,734.20 1888.20,734.20" fill="none" stroke="#1f77b4" stroke-width="3.75" stroke-linejoin="round"/>
<g fill="#1f77b4"><circle cx="1095.80" cy="554.50" r="5.0"/><circle cx="1098.97" cy="552.93" r="5.0"/><circle cx="1102.14" cy="550.97" r="5.0"/><circle cx="1105.31" cy="548.78" r="5.0"/><circle cx="1108.48" cy="546.46" r="5.0"/><circle cx="1111.65" cy="544.13" r="5.0"/><circle cx="1114.82" cy="541.90" r="5.0"/><circle cx="1117.99" cy="539.72" r="5.0"/><circle cx="1121.16" cy="537.54" r="5.0"/><circle cx="1124.33" cy="535.28" r="5.0"/><circle cx="1127.50" cy="532.87" r="5.0"/><circle cx="1130.67" cy="530.15" r="5.0"/><circle cx="1133.84" cy="527.45" r="5.0"/><circle cx="1137.00" cy="525.12" r="5.0"/><circle cx="1140.17" cy="523.27" r="5.0"/><circle cx="1143.34" cy="521.68" r="5.0"/><circle cx="1146.51" cy="520.69" r="5.0"/><circle cx="1149.68" cy="520.25" r="5.0"/><circle cx="1152.85" cy="519.95" r="5.0"/><circle cx="1156.02" cy="519.46" r="5.0"/><circle cx="1159.19" cy="517.89" r="5.0"/><circle cx="1162.36" cy="514.77" r="5.0"/><circle cx="1165.53" cy="511.45" r="5.0"/><circle cx="1168.70" cy="507.61" r="5.0"/><circle cx="1171.87" cy="503.54" r="5.0"/><circle cx="1175.04" cy="499.51" r="5.0"/><circle cx="1178.21" cy="495.32" r="5.0"/><circle cx="1181.38" cy="490.60" r="5.0"/><circle cx="1184.55" cy="484.73" r="5.0"/><circle cx="1187.72" cy="478.96" r="5.0"/><circle cx="1190.89" cy="472.51" r="5.0"/><circle cx="1194.06" cy="465.57" r="5.0"/><circle cx="1197.23" cy="457.83" r="5.0"/><circle cx="1200.40" cy="449.88" r="5.0"/><circle cx="1203.57" cy="440.71" r="5.0"/><circle cx="1206.74" cy="431.98" r="5.0"/><circle cx="1209.91" cy="423.27" r="5.0"/><circle cx="1213.08" cy="413.76" r="5.0"/><circle cx="1216.24" cy="406.82" r="5.0"/><circle cx="1219.41" cy="399.52" r="5.0"/><circle cx="1222.58" cy="392.91" r="5.0"/><circle cx="1225.75" cy="388.53" r="5.0"/><circle cx="1228.92" cy="387.10" r="5.0"/><circle cx="1232.09" cy="387.15" r="5.0"/><circle cx="1235.26" cy="389.79" r="5.0"/><circle cx="1238.43" cy="401.03" r="5.0"/><circle cx="1241.60" cy="411.35" r="5.0"/><circle cx="1244.77" cy="423.72" r="5.0"/><circle cx="1247.94" cy="437.90" r="5.0"/><circle cx="1251.11" cy="451.36" r="5.0"/><circle cx="1254.28" cy="462.23" r="5.0"/><circle cx="1257.45" cy="472.74" r="5.0"/><circle cx="1260.62" cy="481.56" r="5.0"/><circle cx="1263.79" cy="490.25" r="5.0"/><circle cx="1266.96" cy="498.28" r="5.0"/><circle cx="1270.13" cy="504.95" r="5.0"/><circle cx="1273.30" cy="510.63" r="5.0"/><circle cx="1276.47" cy="515.28" r="5.0"/><circle cx="1279.64" cy="519.27" r="5.0"/><circle cx="1282.81" cy="522.90" r="5.0"/><circle cx="1285.98" cy="526.37" r="5.0"/><circle cx="1289.15" cy="529.64" r="5.0"/><circle cx="1292.32" cy="532.61" r="5.0"/><circle cx="1295.48" cy="535.21" r="5.0"/><circle cx="1298.65" cy="537.57" r="5.0"/><circle cx="1301.82" cy="539.70" r="5.0"/><circle cx="1304.99" cy="541.60" r="5.0"/><circle cx="1308.16" cy="543.41" r="5.0"/><circle cx="1311.33" cy="545.05" r="5.0"/><circle cx="1314.50" cy="546.32" r="5.0"/><circle cx="1317.67" cy="547.25" r="5.0"/><circle cx="1320.84" cy="548.08" r="5.0"/><circle cx="1324.01" cy="548.61" r="5.0"/><circle cx="1327.18" cy="548.69" r="5.0"/><circle cx="1330.35" cy="548.60" r="5.0"/><circle cx="1333.52" cy="548.46" r="5.0"/><circle cx="1336.69" cy="548.29" r="5.0"/><circle cx="1339.86" cy="548.00" r="5.0"/><circle cx="1343.03" cy="547.68" r="5.0"/><circle cx="1346.20" cy="547.90" r="5.0"/><circle cx="1349.37" cy="551.11" r="5.0"/><circle cx="1352.54" cy="555.44" r="5.0"/><circle cx="1355.71" cy="561.38" r="5.0"/><circle cx="1358.88" cy="571.81" r="5.0"/><circle cx="1362.05" cy="587.41" r="5.0"/><circle cx="1365.22" cy="602.97" r="5.0"/><circle cx="1368.39" cy="619.86" r="5.0"/><circle cx="1371.56" cy="638.55" r="5.0"/><circle cx="1374.72" cy="654.36" r="5.0"/><circle cx="1377.89" cy="666.96" r="5.0"/><circle cx="1381.06" cy="676.49" r="5.0"/><circle cx="1384.23" cy="685.83" r="5.0"/><circle cx="1387.40" cy="693.47" r="5.0"/><circle cx="1390.57" cy="700.23" r="5.0"/><circle cx="1393.74" cy="705.76" r="5.0"/><circle cx="1396.91" cy="710.23" r="5.0"/><circle cx="1400.08" cy="714.14" r="5.0"/><circle cx="1403.25" cy="717.51" r="5.0"/><circle cx="1406.42" cy="720.37" r="5.0"/><circle cx="1409.59" cy="722.81" r="5.0"/><circle cx="1412.76" cy="724.97" r="5.0"/><circle cx="1415.93" cy="726.77" r="5.0"/><circle cx="1419.10" cy="728.15" r="5.0"/><circle cx="1422.27" cy="729.27" r="5.0"/><circle cx="1425.44" cy="730.27" r="5.0"/><circle cx="1428.61" cy="731.13" r="5.0"/><circle cx="1431.78" cy="731.84" r="5.0"/><circle cx="1434.95" cy="732.38" r="5.0"/><circle cx="1438.12" cy="732.79" r="5.0"/><circle cx="1441.29" cy="733.16" r="5.0"/><circle cx="1444.46" cy="733.49" r="5.0"/><circle cx="1447.63" cy="733.78" r="5.0"/><circle cx="1450.80" cy="734.03" r="5.0"/><circle cx="1453.96" cy="734.23" r="5.0"/><circle cx="1457.13" cy="734.39" r="5.0"/><circle cx="1460.30" cy="734.51" r="5.0"/><circle cx="1463.47" cy="734.60" r="5.0"/><circle cx="1466.64" cy="734.69" r="5.0"/><circle cx="1469.81" cy="734.78" r="5.0"/><circle cx="1472.98" cy="734.85" r="5.0"/><circle cx="1476.15" cy="734.93" r="5.0"/><circle cx="1479.32" cy="734.99" r="5.0"/><circle cx="1482.49" cy="735.05" r="5.0"/><circle cx="1485.66" cy="735.10" r="5.0"/><circle cx="1488.83" cy="735.14" r="5.0"/><circle cx="1492.00" cy="735.17" r="5.0"/><circle cx="1495.17" cy="735.19" r="5.0"/><circle cx="1498.34" cy="735.20" r="5.0"/><circle cx="1501.51" cy="735.20" r="5.0"/><circle cx="1504.68" cy="735.19" r="5.0"/><circle cx="1507.85" cy="735.17" r="5.0"/><circle cx="1511.02" cy="735.15" r="5.0"/><circle cx="1514.19" cy="735.11" r="5.0"/><circle cx="1517.36" cy="735.08" r="5.0"/><circle cx="1520.53" cy="735.03" r="5.0"/><circle cx="1523.70" cy="734.99" r="5.0"/><circle cx="1526.87" cy="734.94" r="5.0"/><circle cx="1530.04" cy="734.90" r="5.0"/><circle cx="1533.20" cy="734.85" r="5.0"/><circle cx="1536.37" cy="734.80" r="5.0"/><circle cx="1539.54" cy="734.76" r="5.0"/><circle cx="1542.71" cy="734.72" r="5.0"/><circle cx="1545.88" cy="734.69" r="5.0"/><circle cx="1549.05" cy="734.66" r="5.0"/><circle cx="1552.22" cy="734.62" r="5.0"/><circle cx="1555.39" cy="734.58" r="5.0"/><circle cx="1558.56" cy="734.55" r="5.0"/><circle cx="1561.73" cy="734.51" r="5.0"/><circle cx="1564.90" cy="734.47" r="5.0"/><circle cx="1568.07" cy="734.43" r="5.0"/><circle cx="1571.24" cy="734.40" r="5.0"/><circle cx="1574.41" cy="734.36" r="5.0"/><circle cx="1577.58" cy="734.33" r="5.0"/><circle cx="1580.75" cy="734.30" r="5.0"/><circle cx="1583.92" cy="734.27" r="5.0"/><circle cx="1587.09" cy="734.25" r="5.0"/><circle cx="1590.26" cy="734.23" r="5.0"/><circle cx="1593.43" cy="734.21" r="5.0"/><circle cx="1596.60" cy="734.20" r="5.0"/><circle cx="1599.77" cy="734.20" r="5.0"/><circle cx="1602.94" cy="734.20" r="5.0"/><circle cx="1606.11" cy="734.20" r="5.0"/><circle cx="1609.28" cy="734.20" r="5.0"/><circle cx="1612.44" cy="734.20" r="5.0"/><circle cx="1615.61" cy="734.20" r="5.0"/><circle cx="1618.78" cy="734.20" r="5.0"/><circle cx="1621.95" cy="734.20" r="5.0"/><circle cx="1625.12" cy="734.20" r="5.0"/><circle cx="1628.29" cy="734.20" r="5.0"/><circle cx="1631.46" cy="734.20" r="5.0"/><circle cx="1634.63" cy="734.20" r="5.0"/><circle cx="1637.80" cy="734.20" r="5.0"/><circle cx="1640.97" cy="734.20" r="5.0"/><circle cx="1644.14" cy="734.20" r="5.0"/><circle cx="1647.31" cy="734.20" r="5.0"/><circle cx="1650.48" cy="734.20" r="5.0"/><circle cx="1653.65" cy="734.20" r="5.0"/><circle cx="1656.82" cy="734.20" r="5.0"/><circle cx="1659.99" cy="734.20" r="5.0"/><circle cx="1663.16" cy="734.20" r="5.0"/><circle cx="1666.33" cy="734.20" r="5.0"/><circle cx="1669.50" cy="734.20" r="5.0"/><circle cx="1672.67" cy="734.20" r="5.0"/><circle cx="1675.84" cy="734.20" r="5.0"/><circle cx="1679.01" cy="734.20" r="5.0"/><circle cx="1682.18" cy="734.20" r="5.0"/><circle cx="1685.35" cy="734.20" r="5.0"/><circle cx="1688.52" cy="734.20" r="5.0"/><circle cx="1691.68" cy="734.20" r="5.0"/><circle cx="1694.85" cy="734.20" r="5.0"/><circle cx="1698.02" cy="734.20" r="5.0"/><circle cx="1701.19" cy="734.20" r="5.0"/><circle cx="1704.36" cy="734.20" r="5.0"/><circle cx="1707.53" cy="734.20" r="5.0"/><circle cx="1710.70" cy="734.20" r="5.0"/><circle cx="1713.87" cy="734.20" r="5.0"/><circle cx="1717.04" cy="734.20" r="5.0"/><circle cx="1720.21" cy="734.20" r="5.0"/><circle cx="1723.38" cy="734.20" r="5.0"/><circle cx="1726.55" cy="734.20" r="5.0"/><circle cx="1729.72" cy="734.20" r="5.0"/><circle cx="1732.89" cy="734.20" r="5.0"/><circle cx="1736.06" cy="734.20" r="5.0"/><circle cx="1739.23" cy="734.20" r="5.0"/><circle cx="1742.40" cy="734.20" r="5.0"/><circle cx="1745.57" cy="734.20" r="5.0"/><circle cx="1748.74" cy="734.20" r="5.0"/><circle cx="1751.91" cy="734.20" r="5.0"/><circle cx="1755.08" cy="734.20" r="5.0"/><circle cx="1758.25" cy="734.20" r="5.0"/><circle cx="1761.42" cy="734.20" r="5.0"/><circle cx="1764.59" cy="734.20" r="5.0"/><circle cx="1767.76" cy="734.20" r="5.0"/><circle cx="1770.92" cy="734.20" r="5.0"/><circle cx="1774.09" cy="734.20" r="5.0"/><circle cx="1777.26" cy="734.20" r="5.0"/><circle cx="1780.43" cy="734.20" r="5.0"/><circle cx="1783.60" cy="734.20" r="5.0"/><circle cx="1786.77" cy="734.20" r="5.0"/><circle cx="1789.94" cy="734.20" r="5.0"/><circle cx="1793.11" cy="734.20" r="5.0"/><circle cx="1796.28" cy="734.20" r="5.0"/><circle cx="1799.45" cy="734.20" r="5.0"/><circle cx="1802.62" cy="734.20" r="5.0"/><circle cx="1805.79" cy="734.20" r="5.0"/><circle cx="1808.96" cy="734.20" r="5.0"/><circle cx="1812.13" cy="734.20" r="5.0"/><circle cx="1815.30" cy="734.20" r="5.0"/><circle cx="1818.47" cy="734.20" r="5.0"/><circle cx="1821.64" cy="734.20" r="5.0"/><circle cx="1824.81" cy="734.20" r="5.0"/><circle cx="1827.98" cy="734.20" r="5.0"/><circle cx="1831.15" cy="734.20" r="5.0"/><circle cx="1834.32" cy="734.20" r="5.0"/><circle cx="1837.49" cy="734.20" r="5.0"/><circle cx="1840.66" cy="734.20" r="5.0"/><circle cx="1843.83" cy="734.20" r="5.0"/><circle cx="1847.00" cy="734.20" r="5.0"/><circle cx="1850.16" cy="734.20" r="5.0"/><circle cx="1853.33" cy="734.20" r="5.0"/><circle cx="1856.50" cy="734.20" r="5.0"/><circle cx="1859.67" cy="734.20" r="5.0"/><circle cx="1862.84" cy="734.20" r="5.0"/><circle cx="1866.01" cy="734.20" r="5.0"/><circle cx="1869.18" cy="734.20" r="5.0"/><circle cx="1872.35" cy="734.20" r="5.0"/><circle cx="1875.52" cy="734.20" r="5.0"/><circle cx="1878.69" cy="734.20" r="5.0"/><circle cx="1881.86" cy="734.20" r="5.0"/><circle cx="1885.03" cy="734.20" r="5.0"/><circle cx="1888.20" cy="734.20" r="5.0"/></g>
</g>
<polyline points="1379.95,679.82 1381.24,682.73 1382.53,685.48 1383.82,688.08 1385.11,690.54 1386.39,692.88 1387.68,695.08 1388.97,697.17 1390.26,699.15 1391.54,701.02 1392.83,702.80 1394.12,704.48 1395.41,706.08 1396.69,707.59 1397.98,709.03 1399.27,710.39 1400.56,711.68 1401.85,712.90 1403.13,714.06 1404.42,715.17 1405.71,716.22 1407.00,717.21 1408.28,718.16 1409.57,719.05 1410.86,719.91 1412.15,720.72 1413.43,721.49 1414.72,722.22 1416.01,722.92 1417.30,723.58 1418.59,724.21 1419.87,724.81 1421.16,725.38 1422.45,725.93 1423.74,726.45 1425.02,726.94 1426.31,727.41 1427.60,727.86 1428.89,728.28 1430.17,728.69 1431.46,729.08 1432.75,729.45 1434.04,729.80 1435.33,730.13 1436.61,730.45 1437.90,730.76 1439.19,731.05 1440.48,731.33 1441.76,731.59 1443.05,731.85 1444.34,732.09 1445.63,732.32 1446.92,732.54 1448.20,732.75 1449.49,732.95 1450.78,733.15 1452.07,733.33 1453.35,733.51 1454.64,733.68 1455.93,733.84 1457.22,733.99 1458.50,734.14 1459.79,734.28 1461.08,734.41 1462.37,734.54 1463.66,734.67 1464.94,734.78 1466.23,734.90 1467.52,735.01 1468.81,735.11 1470.09,735.21 1471.38,735.30 1472.67,735.40 1473.96,735.48 1475.24,735.57 1476.53,735.65 1477.82,735.72 1479.11,735.80 1480.40,735.87 1481.68,735.94 1482.97,736.00 1484.26,736.07 1485.55,736.13 1486.83,736.18 1488.12,736.24 1489.41,736.29 1490.70,736.34 1491.98,736.39 1493.27,736.44 1494.56,736.48 1495.85,736.53 1497.14,736.57 1498.42,736.61 1499.71,736.65 1501.00,736.68 1502.29,736.72 1503.57,736.75 1504.86,736.79 1506.15,736.82 1507.44,736.85 1508.72,736.88 1510.01,736.91 1511.30,736.93 1512.59,736.96 1513.88,736.99 1515.16,737.01 1516.45,737.03 1517.74,737.06 1519.03,737.08 1520.31,737.10 1521.60,737.12 1522.89,737.14 1524.18,737.16 1525.46,737.17 1526.75,737.19 1528.04,737.21 1529.33,737.22 1530.62,737.24 1531.90,737.25 1533.19,737.27 1534.48,737.28 1535.77,737.30 1537.05,737.31 1538.34,737.32 1539.63,737.33 1540.92,737.35 1542.20,737.36 1543.49,737.37 1544.78,737.38 1546.07,737.39 1547.36,737.40 1548.64,737.41 1549.93,737.42 1551.22,737.42 1552.51,737.43 1553.79,737.44 1555.08,737.45 1556.37,737.46 1557.66,737.46 1558.94,737.47 1560.23,737.48 1561.52,737.49 1562.81,737.49 1564.10,737.50 1565.38,737.50 1566.67,737.51 1567.96,737.52 1569.25,737.52 1570.53,737.53 1571.82,737.53 1573.11,737.54 1574.40,737.54 1575.68,737.55 1576.97,737.55 1578.26,737.55 1579.55,737.56 1580.84,737.56 1582.12,737.57 1583.41,737.57 1584.70,737.57 1585.99,737.58 1587.27,737.58 1588.56,737.58 1589.85,737.59 1591.14,737.59 1592.43,737.59 1593.71,737.60 1595.00,737.60 1596.29,737.60 1597.58,737.60 1598.86,737.61 1600.15,737.61 1601.44,737.61 1602.73,737.61 1604.01,737.62 1605.30,737.62 1606.59,737.62 1607.88,737.62 1609.17,737.63 1610.45,737.63 1611.74,737.63 1613.03,737.63 1614.32,737.63 1615.60,737.64 1616.89,737.64 1618.18,737.64 1619.47,737.64 1620.75,737.64 1622.04,737.64 1623.33,737.64 1624.62,737.65 1625.91,737.65 1627.19,737.65 1628.48,737.65 1629.77,737.65 1631.06,737.65 1632.34,737.65 1633.63,737.65 1634.92,737.66 1636.21,737.66 1637.49,737.66 1638.78,737.66 1640.07,737.66 1641.36,737.66 1642.65,737.66 1643.93,737.66 1645.22,737.66 1646.51,737.67 1647.80,737.67 1649.08,737.67 1650.37,737.67 1651.66,737.67 1652.95,737.67 1654.23,737.67 1655.52,737.67 1656.81,737.67 1658.10,737.67 1659.39,737.67 1660.67,737.67 1661.96,737.67 1663.25,737.67 1664.54,737.68 1665.82,737.68 1667.11,737.68 1668.40,737.68 1669.69,737.68 1670.97,737.68 1672.26,737.68 1673.55,737.68 1674.84,737.68 1676.13,737.68 1677.41,737.68 1678.70,737.68 1679.99,737.68 1681.28,737.68 1682.56,737.68 1683.85,737.68 1685.14,737.68 1686.43,737.68 1687.71,737.68 1689.00,737.68 1690.29,737.68 1691.58,737.68 1692.87,737.69 1694.15,737.69 1695.44,737.69 1696.73,737.69 1698.02,737.69 1699.30,737.69 1700.59,737.69 1701.88,737.69 1703.17,737.69 1704.45,737.69 1705.74,737.69 1707.03,737.69 1708.32,737.69 1709.61,737.69 1710.89,737.69 1712.18,737.69 1713.47,737.69 1714.76,737.69 1716.04,737.69 1717.33,737.69 1718.62,737.69 1719.91,737.69 1721.20,737.69 1722.48,737.69 1723.77,737.69 1725.06,737.69 1726.35,737.69 1727.63,737.69 1728.92,737.69 1730.21,737.69 1731.50,737.69 1732.78,737.69 1734.07,737.69 1735.36,737.69 1736.65,737.69 1737.94,737.69 1739.22,737.69 1740.51,737.69 1741.80,737.69 1743.09,737.69 1744.37,737.69 1745.66,737.69 1746.95,737.69 1748.24,737.69 1749.52,737.69 1750.81,737.69 1752.10,737.69 1753.39,737.69 1754.68,737.69 1755.96,737.69 1757.25,737.69 1758.54,737.69 1759.83,737.69 1761.11,737.70 1762.40,737.70 1763.69,737.70 1764.98,737.70 1766.26,737.70 1767.55,737.70 1768.84,737.70 1770.13,737.70 1771.42,737.70 1772.70,737.70 1773.99,737.70 1775.28,737.70 1776.57,737.70 1777.85,737.70 1779.14,737.70 1780.43,737.70 1781.72,737.70 1783.00,737.70 1784.29,737.70 1785.58,737.70 1786.87,737.70 1788.16,737.70 1789.44,737.70 1790.73,737.70 1792.02,737.70 1793.31,737.70 1794.59,737.70 1795.88,737.70 1797.17,737.70 1798.46,737.70 1799.74,737.70 1801.03,737.70 1802.32,737.70 1803.61,737.70 1804.90,737.70 1806.18,737.70 1807.47,737.70 1808.76,737.70 1810.05,737.70 1811.33,737.70 1812.62,737.70 1813.91,737.70 1815.20,737.70 1816.48,737.70 1817.77,737.70 1819.06,737.70 1820.35,737.70 1821.64,737.70 1822.92,737.70 1824.21,737.70 1825.50,737.70 1826.79,737.70 1828.07,737.70 1829.36,737.70 1830.65,737.70 1831.94,737.70 1833.22,737.70 1834.51,737.70 1835.80,737.70 1837.09,737.70 1838.38,737.70 1839.66,737.70 1840.95,737.70 1842.24,737.70 1843.53,737.70 1844.81,737.70 1846.10,737.70 1847.39,737.70 1848.68,737.70 1849.97,737.70 1851.25,737.70 1852.54,737.70 1853.83,737.70 1855.12,737.70 1856.40,737.70 1857.69,737.70 1858.98,737.70 1860.27,737.70 1861.55,737.70 1862.84,737.70 1864.13,737.70 1865.42,737.70 1866.71,737.70 1867.99,737.70 1869.28,737.70 1870.57,737.70 1871.86,737.70 1873.14,737.70 1874.43,737.70 1875.72,737.70 1877.01,737.70 1878.29,737.70 1879.58,737.70 1880.87,737.70 1882.16,737.70 1883.45,737.70 1884.73,737.70 1886.02,737.70 1887.31,737.70 1888.60,737.70 1889.88,737.70 1891.17,737.70 1892.46,737.70 1893.75,737.70" fill="none" stroke="#ff7f0e" stroke-width="10.6" stroke-linejoin="round" stroke-linecap="butt"/>
<rect x="118.2" y="1.0" width="779.30" height="364.30" fill="none" stroke="#000" stroke-width="2" stroke-linejoin="miter"/>
<rect x="118.2" y="365.3" width="779.30" height="364.30" fill="none" stroke="#000" stroke-width="2" stroke-linejoin="miter"/>
<rect x="1095.8" y="1.0" width="792.40" height="369.90" fill="none" stroke="#000" stroke-width="2" stroke-linejoin="miter"/>
<rect x="1095.8" y="370.9" width="792.40" height="370.20" fill="none" stroke="#000" stroke-width="2" stroke-linejoin="miter"/>
<path d="M109.45,102.50H118.20 M109.45,222.30H118.20 M109.45,342.10H118.20 M109.45,533.80H118.20 M109.45,729.60H118.20 M118.20,729.60V738.85 M429.80,729.60V738.85 M741.40,729.60V738.85 M1087.05,119.45H1095.80 M1087.05,264.60H1095.80 M1087.05,404.10H1095.80 M1087.05,737.70H1095.80 M1095.80,741.10V750.35 M1412.70,741.10V750.35 M1729.70,741.10V750.35" stroke="#000" stroke-width="2" fill="none"/>
<text x="99.7" y="116.5" style="font-family:'Liberation Serif','Times New Roman',serif;font-size:42.5px" text-anchor="end" >25</text>
<text x="99.7" y="236.3" style="font-family:'Liberation Serif','Times New Roman',serif;font-size:42.5px" text-anchor="end" >0</text>
<text x="99.7" y="356.1" style="font-family:'Liberation Serif','Times New Roman',serif;font-size:42.5px" text-anchor="end" >−25</text>
<text x="99.7" y="547.8" style="font-family:'Liberation Serif','Times New Roman',serif;font-size:42.5px" text-anchor="end" >25</text>
<text x="99.7" y="738.1" style="font-family:'Liberation Serif','Times New Roman',serif;font-size:42.5px" text-anchor="end" >0</text>
<text x="118.2" y="781.0" style="font-family:'Liberation Serif','Times New Roman',serif;font-size:42.5px" text-anchor="middle" >200</text>
<text x="429.8" y="781.0" style="font-family:'Liberation Serif','Times New Roman',serif;font-size:42.5px" text-anchor="middle" >400</text>
<text x="741.4" y="781.0" style="font-family:'Liberation Serif','Times New Roman',serif;font-size:42.5px" text-anchor="middle" >600</text>
<text x="1079.5" y="133.5" style="font-family:'Liberation Serif','Times New Roman',serif;font-size:42.5px" text-anchor="end" >5.0</text>
<text x="1079.5" y="278.6" style="font-family:'Liberation Serif','Times New Roman',serif;font-size:42.5px" text-anchor="end" >2.5</text>
<text x="1078.5" y="418.1" style="font-family:'Liberation Serif','Times New Roman',serif;font-size:42.5px" text-anchor="end" >5</text>
<text x="1069.5" y="743.9" style="font-family:'Liberation Serif','Times New Roman',serif;font-size:42.5px" text-anchor="end" >0</text>
<text x="1095.8" y="781.0" style="font-family:'Liberation Serif','Times New Roman',serif;font-size:42.5px" text-anchor="middle" >200</text>
<text x="1412.7" y="781.0" style="font-family:'Liberation Serif','Times New Roman',serif;font-size:42.5px" text-anchor="middle" >400</text>
<text x="1729.7" y="781.0" style="font-family:'Liberation Serif','Times New Roman',serif;font-size:42.5px" text-anchor="middle" >600</text>
<text x="130" y="50" style="font-family:'Liberation Serif','Times New Roman',serif;font-size:42.5px" text-anchor="start" >(a)</text>
<text x="127.5" y="410" style="font-family:'Liberation Serif','Times New Roman',serif;font-size:42.5px" text-anchor="start" >(b)</text>
<text x="1115.5" y="49.5" style="font-family:'Liberation Serif','Times New Roman',serif;font-size:42.5px" text-anchor="start" >(c)</text>
<text x="1112" y="410" style="font-family:'Liberation Serif','Times New Roman',serif;font-size:42.5px" text-anchor="start" >(d)</text>
<text x="475" y="830" style="font-family:'Liberation Serif','Times New Roman',serif;font-size:42.5px" text-anchor="middle" >λ(nm)</text>
<text x="1456" y="830" style="font-family:'Liberation Serif','Times New Roman',serif;font-size:42.5px" text-anchor="middle" >λ(nm)</text>
<text x="-2" y="187" style="font-family:'Liberation Serif','Times New Roman',serif;font-size:42.5px">ε<tspan font-size="41" dy="12.3">r</tspan></text>
<text x="-0.5" y="551.3" style="font-family:'Liberation Serif','Times New Roman',serif;font-size:42.5px">ε<tspan font-size="41" dy="12.3">i</tspan></text>
<text transform="translate(993,184.5) rotate(-90)" style="font-family:'DejaVu Sans',sans-serif;font-size:39px" text-anchor="middle">n</text>
<text transform="translate(1038,559.7) rotate(-90)" style="font-family:'DejaVu Sans',sans-serif;font-size:39px" text-anchor="middle">k</text>
<text x="1410" y="457.6" style="font-family:'Liberation Serif','Times New Roman',serif;font-size:45px" text-anchor="start" >A = 5.61</text>
<text x="1410" y="526.5" style="font-family:'Liberation Serif','Times New Roman',serif;font-size:45px" text-anchor="start" >B = 0.35</text>
<text x="1410" y="596" style="font-family:'Liberation Serif','Times New Roman',serif;font-size:45px" text-anchor="start" >C = 0.31</text>
<text x="1410" y="664.9" style="font-family:'Liberation Serif','Times New Roman',serif;font-size:45px" text-anchor="start" >D = 6.48</text>
<text x="1669" y="468" style="font-family:'Liberation Serif','Times New Roman',serif;font-size:48px">α=10<tspan font-size="38" dy="-22.5" x="1770">−4</tspan></text>
<text x="1671" y="544.8" style="font-family:'Liberation Serif','Times New Roman',serif;font-size:46px" text-anchor="start" >β=7.38</text>
<text x="1668" y="620.8" style="font-family:'Liberation Serif','Times New Roman',serif;font-size:46px" text-anchor="start" >γ=2.04</text>
<rect x="487.6" y="388.2" width="387.4" height="142.2" rx="8.5" ry="8.5" fill="#ffffff" fill-opacity="0.8" stroke="#cccccc" stroke-width="2.5"/>
<line x1="517.9" y1="422.9" x2="586.5" y2="422.9" stroke="#1f77b4" stroke-width="3.75"/>
<path d="M508.75,475.95L531.25,475.95L520.00,498.45ZM541.05,475.95L563.55,475.95L552.30,498.45ZM573.35,475.95L595.85,475.95L584.60,498.45Z" fill="#ff7f0e" stroke="#ff7f0e" stroke-width="2.5" stroke-linejoin="miter"/>
<text x="618" y="437.4" style="font-family:'Liberation Serif','Times New Roman',serif;font-size:42.5px" text-anchor="start" >extracted Si</text>
<text x="618" y="503.8" style="font-family:'Liberation Serif','Times New Roman',serif;font-size:42.5px" text-anchor="start" >Herzinger</text>
<rect x="1237" y="203.4" width="425.5999999999999" height="144.49999999999997" rx="8.5" ry="8.5" fill="#ffffff" fill-opacity="0.8" stroke="#cccccc" stroke-width="2.5"/>
<line x1="1264" y1="238.6" x2="1340" y2="238.6" stroke="#1f77b4" stroke-width="3.75"/>
<g fill="#1f77b4"><circle cx="1269.8" cy="238.6" r="13"/><circle cx="1302.4" cy="238.6" r="13"/><circle cx="1335" cy="238.6" r="13"/></g>
<line x1="1263.7" y1="304" x2="1340.7" y2="304" stroke="#ff7f0e" stroke-width="11"/>
<text x="1374" y="252.7" style="font-family:'Liberation Serif','Times New Roman',serif;font-size:42.5px" text-anchor="start" >extracted</text>
<text x="1374" y="313.9" style="font-family:'Liberation Serif','Times New Roman',serif;font-size:42.5px" text-anchor="start" >approximated</text>
</svg>
</body></html>
